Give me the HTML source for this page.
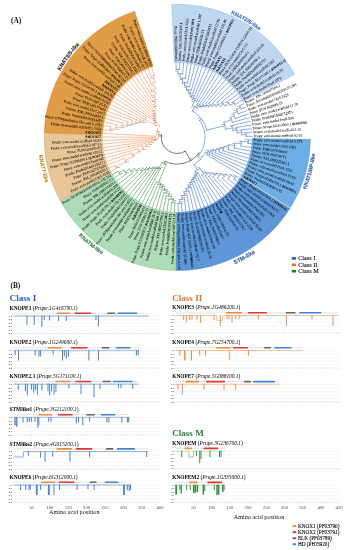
<!DOCTYPE html>
<html lang="en"><head><meta charset="utf-8"><title>KNOX phylogeny and disorder profiles</title>
<style>
html,body{margin:0;padding:0;background:#fff;}
body{width:350px;height:550px;overflow:hidden;}
svg{display:block;}
</style></head><body>
<svg width="350" height="550" viewBox="0 0 350 550">
<rect width="350" height="550" fill="#fff"/>
<g id="sectors">
<path d="M294.58 74.25A133.2 133.2 0 0 0 171.72 4.32L174.16 62.47A75 75 0 0 1 243.34 101.84Z" fill="#BFD8F1" stroke="#86A9D6" stroke-width="0.35"/>
<path d="M290.26 207.99A133.2 133.2 0 0 0 310.49 139.26L252.29 138.45A75 75 0 0 1 240.9 177.14Z" fill="#6DAFE4" stroke="#4C8DD0" stroke-width="0.35"/>
<path d="M175.67 270.59A133.2 133.2 0 0 0 290.26 207.99L240.9 177.14A75 75 0 0 1 176.38 212.39Z" fill="#5E97D8" stroke="#3B77BD" stroke-width="0.35"/>
<path d="M60.13 200.75A133.2 133.2 0 0 0 175.67 270.59L176.38 212.39A75 75 0 0 1 111.33 173.07Z" fill="#ACDDB6" stroke="#86BF93" stroke-width="0.35"/>
<path d="M44.18 132.75A133.2 133.2 0 0 0 60.13 200.75L111.33 173.07A75 75 0 0 1 102.35 134.78Z" fill="#E9C696" stroke="#CFA266" stroke-width="0.35"/>
<path d="M134.59 11.23A133.2 133.2 0 0 0 44.18 132.75L102.35 134.78A75 75 0 0 1 153.25 66.36Z" fill="#E09D45" stroke="#B97A2C" stroke-width="0.35"/>
</g>
<line x1="240.9" y1="177.14" x2="290.26" y2="207.99" stroke="#EFE3C8" stroke-width="0.9"/>
<g id="labels" font-family="'Liberation Serif',serif" font-size="3.7" fill="#000" stroke="#000" stroke-width="0.035">
<text transform="translate(151.05 65.86) rotate(69.85)" text-anchor="end" dy="1">Pruka: evm.model.scaffold 54.63</text>
<text transform="translate(147.47 67.28) rotate(66.95)" text-anchor="end" dy="1">Prumi: evm.model.Pruft.1870</text>
<text transform="translate(143.96 68.88) rotate(64.05)" text-anchor="end" dy="1">Pruda: evm.model.scaffold 9.187</text>
<text transform="translate(140.53 70.66) rotate(61.15)" text-anchor="end" dy="1">Prudu: Prudul26A013493T1</text>
<text transform="translate(137.2 72.6) rotate(58.25)" text-anchor="end" dy="1">Prufe: evm.model.Chr1.3812</text>
<text transform="translate(133.98 74.71) rotate(55.35)" text-anchor="end" dy="1">Prumu: XM_008221545.1</text>
<text transform="translate(130.86 76.99) rotate(52.45)" text-anchor="end" dy="1">Pruar: PARG06922m01</text>
<text transform="translate(127.86 79.41) rotate(49.55)" text-anchor="end" dy="1">Prusa: FUN 004967-T1</text>
<text transform="translate(124.99 81.99) rotate(46.65)" text-anchor="end" dy="1">Pruce: Pd.WSM2000007S0A.02.118</text>
<text transform="translate(122.26 84.71) rotate(43.75)" text-anchor="end" dy="1">Prupe: Prupe.1G486200.1 <tspan font-weight="bold" font-size="3.2">(KNOPE3)</tspan></text>
<text transform="translate(119.66 87.56) rotate(40.85)" text-anchor="end" dy="1">Pruav: evm.model.scaffold 3.98</text>
<text transform="translate(117.21 90.54) rotate(37.95)" text-anchor="end" dy="1"><tspan font-weight="bold">AtKNAT3</tspan></text>
<text transform="translate(114.92 93.64) rotate(35.05)" text-anchor="end" dy="1"><tspan font-weight="bold">AtKNAT4</tspan></text>
<text transform="translate(112.78 96.85) rotate(32.15)" text-anchor="end" dy="1">Pruka: evm.model.scaffold 189.30</text>
<text transform="translate(110.82 100.17) rotate(29.25)" text-anchor="end" dy="1">Prupe: Prupe.7G254700.1 <tspan font-weight="bold" font-size="3.2">(KNOPE4)</tspan></text>
<text transform="translate(109.02 103.58) rotate(26.35)" text-anchor="end" dy="1">Prumi: evm.model.scaffold 4.150</text>
<text transform="translate(107.39 107.08) rotate(23.45)" text-anchor="end" dy="1">Prusa: FUN 039715-T1</text>
<text transform="translate(105.95 110.65) rotate(20.55)" text-anchor="end" dy="1">Pruar: PARG28177m01</text>
<text transform="translate(104.69 114.3) rotate(17.65)" text-anchor="end" dy="1">Prufe: evm.model.Chr7.2007</text>
<text transform="translate(103.61 118) rotate(14.75)" text-anchor="end" dy="1">Prumu: XM_008244829.1</text>
<text transform="translate(102.72 121.75) rotate(11.85)" text-anchor="end" dy="1">Prudu: Prudul26A023334T1</text>
<text transform="translate(102.03 125.55) rotate(8.95)" text-anchor="end" dy="1">Pruav: EVMprediction Hic asm 6.2553</text>
<text transform="translate(101.52 129.37) rotate(6.05)" text-anchor="end" dy="1">Pruda: evm.model.scaffold 2.1666</text>
<text transform="translate(101.22 133.21) rotate(3.15)" text-anchor="end" dy="1"><tspan font-weight="bold">AtKNAT5</tspan></text>
<text transform="translate(101.1 136.96) rotate(0.33)" text-anchor="end" dy="1"><tspan font-weight="bold">AtKNAT7</tspan></text>
<text transform="translate(101.17 140.6) rotate(-2.4)" text-anchor="end" dy="1">Pruda: evm.model.scaffold 54.87</text>
<text transform="translate(101.41 144.23) rotate(-5.14)" text-anchor="end" dy="1">Pruka: evm.model.scaffold 167.15</text>
<text transform="translate(101.82 147.84) rotate(-7.88)" text-anchor="end" dy="1">Prusa: FUN 024979-T1</text>
<text transform="translate(102.4 151.43) rotate(-10.61)" text-anchor="end" dy="1">Prumi: evm.model.scaffold 159.12</text>
<text transform="translate(103.16 154.99) rotate(-13.35)" text-anchor="end" dy="1">Prupe: Prupe.5G088100.1 <tspan font-weight="bold" font-size="3.2">(KNOPE7)</tspan></text>
<text transform="translate(104.08 158.51) rotate(-16.09)" text-anchor="end" dy="1">Pruav: evm.model.Pruft.845</text>
<text transform="translate(105.18 161.99) rotate(-18.82)" text-anchor="end" dy="1">Prudu: Prudul26A011322T1</text>
<text transform="translate(106.43 165.4) rotate(-21.56)" text-anchor="end" dy="1">Pruar: PARG23717m01</text>
<text transform="translate(107.85 168.75) rotate(-24.3)" text-anchor="end" dy="1">Prumu: XM_008240538.1</text>
<text transform="translate(109.42 172.03) rotate(-27.03)" text-anchor="end" dy="1">Prufe: evm.model.Chr5.1548</text>
<text transform="translate(111.21 175.33) rotate(-29.85)" text-anchor="end" dy="1">Pruce: Pd.WSM2000001S0A.132.102</text>
<text transform="translate(113.21 178.62) rotate(-32.75)" text-anchor="end" dy="1">Prusa: FUN 020621-T1</text>
<text transform="translate(115.38 181.81) rotate(-35.65)" text-anchor="end" dy="1">Prumu: XM_008231429.1</text>
<text transform="translate(117.71 184.89) rotate(-38.55)" text-anchor="end" dy="1">Pruka: evm.model.scaffold 6.209</text>
<text transform="translate(120.19 187.84) rotate(-41.45)" text-anchor="end" dy="1">Prumi: evm.model.scaffold 14.22</text>
<text transform="translate(122.81 190.67) rotate(-44.35)" text-anchor="end" dy="1">Prupe: Prupe.3G236700.1 <tspan font-weight="bold" font-size="3.2">(KNOPEM)</tspan></text>
<text transform="translate(125.58 193.36) rotate(-47.25)" text-anchor="end" dy="1">Prufe: evm.model.Chr3.2441</text>
<text transform="translate(128.47 195.9) rotate(-50.15)" text-anchor="end" dy="1">Prudu: Prudul26A016407T1</text>
<text transform="translate(131.49 198.3) rotate(-53.05)" text-anchor="end" dy="1">Pruav: EVMprediction Hic asm 3.2611</text>
<text transform="translate(134.63 200.54) rotate(-55.95)" text-anchor="end" dy="1">Pruda: evm.model.scaffold 105.7</text>
<text transform="translate(137.88 202.61) rotate(-58.85)" text-anchor="end" dy="1">Pruar: PARG16409m01</text>
<text transform="translate(141.23 204.52) rotate(-61.75)" text-anchor="end" dy="1"><tspan font-weight="bold">AtKNATM</tspan></text>
<text transform="translate(144.68 206.26) rotate(-64.65)" text-anchor="end" dy="1">Pruar: PARG01849m01</text>
<text transform="translate(148.2 207.83) rotate(-67.55)" text-anchor="end" dy="1">Prusa: FUN 002811-T1</text>
<text transform="translate(151.8 209.21) rotate(-70.45)" text-anchor="end" dy="1">Prupe: Prupe.1G335000.1 <tspan font-weight="bold" font-size="3.2">(KNOPEM2)</tspan></text>
<text transform="translate(155.47 210.41) rotate(-73.35)" text-anchor="end" dy="1">Prumi: evm.model.scaffold 29.11</text>
<text transform="translate(159.19 211.42) rotate(-76.25)" text-anchor="end" dy="1">Pruka: evm.model.scaffold 100.23</text>
<text transform="translate(162.96 212.24) rotate(-79.15)" text-anchor="end" dy="1">Prumu: XM_008223738.1</text>
<text transform="translate(166.76 212.87) rotate(-82.05)" text-anchor="end" dy="1">Prufe: evm.model.Chr1.2403</text>
<text transform="translate(170.59 213.3) rotate(-84.95)" text-anchor="end" dy="1">Prudu: Prudul26A008131T1</text>
<text transform="translate(174.44 213.55) rotate(-87.85)" text-anchor="end" dy="1">Pruda: evm.model.scaffold 23.124</text>
<text transform="translate(178.32 213.59) rotate(-270.77)" text-anchor="start" dy="1">Pruav: EVMprediction Hic asm 4.145</text>
<text transform="translate(182.22 213.44) rotate(-273.7)" text-anchor="start" dy="1">Pruda: evm.model.scaffold 51.380</text>
<text transform="translate(186.11 213.09) rotate(-276.64)" text-anchor="start" dy="1">Prupe: Prupe.4G015200.1 <tspan font-weight="bold" font-size="3.2">(STMlike2)</tspan></text>
<text transform="translate(189.97 212.54) rotate(-279.57)" text-anchor="start" dy="1">Pruka: evm.model.scaffold 162.7</text>
<text transform="translate(193.8 211.79) rotate(-282.51)" text-anchor="start" dy="1">Prudu: Prudul26A021913T1</text>
<text transform="translate(197.59 210.85) rotate(-285.44)" text-anchor="start" dy="1">Prumi: evm.model.scaffold 28.24</text>
<text transform="translate(201.32 209.71) rotate(-288.38)" text-anchor="start" dy="1">Prufe: evm.model.Chr4.166</text>
<text transform="translate(205 208.39) rotate(-291.31)" text-anchor="start" dy="1">Prumu: XM_008227684.1</text>
<text transform="translate(208.59 206.88) rotate(-294.25)" text-anchor="start" dy="1">Pruar: PARG19847m01</text>
<text transform="translate(212.11 205.18) rotate(-297.18)" text-anchor="start" dy="1">Prusa: FUN 031854-T1</text>
<text transform="translate(215.54 203.31) rotate(-300.12)" text-anchor="start" dy="1"><tspan font-weight="bold">AtSTM</tspan></text>
<text transform="translate(218.86 201.27) rotate(-303.05)" text-anchor="start" dy="1">Prusa: FUN 011954-T1</text>
<text transform="translate(222.08 199.06) rotate(-305.99)" text-anchor="start" dy="1">Prumu: XM_008231174.1</text>
<text transform="translate(225.17 196.68) rotate(-308.92)" text-anchor="start" dy="1">Prufe: evm.model.Chr3.2228</text>
<text transform="translate(228.15 194.15) rotate(-311.86)" text-anchor="start" dy="1">Prumi: evm.model.scaffold 55.80</text>
<text transform="translate(230.99 191.48) rotate(-314.79)" text-anchor="start" dy="1">Prudu: Prudul26A015140T1</text>
<text transform="translate(233.68 188.66) rotate(-317.73)" text-anchor="start" dy="1">Pruar: evm.model.Pruft.865</text>
<text transform="translate(236.24 185.7) rotate(-320.66)" text-anchor="start" dy="1">Pruka: evm.model.scaffold 156.8</text>
<text transform="translate(238.63 182.62) rotate(-323.6)" text-anchor="start" dy="1">Pruda: evm.model.scaffold 94.53</text>
<text transform="translate(240.87 179.42) rotate(-326.53)" text-anchor="start" dy="1">Prupe: Prupe.3G212100.1 <tspan font-weight="bold" font-size="3.2">(STMlike1)</tspan></text>
<text transform="translate(242.91 176.16) rotate(-329.43)" text-anchor="start" dy="1"><tspan font-weight="bold">AtKNAT1</tspan></text>
<text transform="translate(244.76 172.84) rotate(-332.28)" text-anchor="start" dy="1">Prudu: Prudul26A009871T1</text>
<text transform="translate(246.44 169.44) rotate(-335.14)" text-anchor="start" dy="1">Prupe: Prupe.1G416700.1 <tspan font-weight="bold" font-size="3.2">(KNOPE1)</tspan></text>
<text transform="translate(247.95 165.96) rotate(-337.99)" text-anchor="start" dy="1">Prumi: evm.model.scaffold 68.41</text>
<text transform="translate(249.28 162.4) rotate(-340.85)" text-anchor="start" dy="1">Pruka: evm.model.scaffold 73.63</text>
<text transform="translate(250.44 158.79) rotate(-343.7)" text-anchor="start" dy="1">Pruav: evm.model.Pruft.1526</text>
<text transform="translate(251.41 155.12) rotate(-346.55)" text-anchor="start" dy="1">Prumu: XM_008222263.1</text>
<text transform="translate(252.2 151.41) rotate(-349.41)" text-anchor="start" dy="1">Prusa: FUN 005776-T1</text>
<text transform="translate(252.81 147.66) rotate(-352.26)" text-anchor="start" dy="1">Pruar: PARG07629m01</text>
<text transform="translate(253.22 143.88) rotate(-355.12)" text-anchor="start" dy="1">Prufe: evm.model.Chr1.1681</text>
<text transform="translate(253.45 140.1) rotate(-357.97)" text-anchor="start" dy="1">Pruda: evm.model.scaffold 8.575</text>
<text transform="translate(253.49 136.28) rotate(-0.84)" text-anchor="start" dy="1">Pruka: evm.model.scaffold 82.62</text>
<text transform="translate(253.34 132.44) rotate(-3.73)" text-anchor="start" dy="1">Prumi: evm.model.scaffold 3.13</text>
<text transform="translate(252.99 128.61) rotate(-6.62)" text-anchor="start" dy="1">Prupe: Prupe.6G312900.1 <tspan font-weight="bold" font-size="3.2">(KNOPE6)</tspan></text>
<text transform="translate(252.45 124.8) rotate(-9.51)" text-anchor="start" dy="1">Pruav: evm.model.Pruft.504</text>
<text transform="translate(251.72 121.03) rotate(-12.4)" text-anchor="start" dy="1">Prudu: Prudul26A020729T1</text>
<text transform="translate(250.8 117.3) rotate(-15.3)" text-anchor="start" dy="1">Pruda: evm.model.scaffold 11.70</text>
<text transform="translate(249.69 113.62) rotate(-18.19)" text-anchor="start" dy="1">Prusa: FUN 022600-T1</text>
<text transform="translate(248.4 110) rotate(-21.07)" text-anchor="start" dy="1">Prufe: evm.model.Chr6.3225</text>
<text transform="translate(246.93 106.45) rotate(-23.97)" text-anchor="start" dy="1">Pruce: Pd.WSM2000002S0A.01.591</text>
<text transform="translate(245.28 102.98) rotate(-26.86)" text-anchor="start" dy="1">Prumu: XM_008247564.2</text>
<text transform="translate(243.45 99.58) rotate(-29.76)" text-anchor="start" dy="1">Pruav: evm.model.Pruft.1579</text>
<text transform="translate(241.44 96.27) rotate(-32.67)" text-anchor="start" dy="1">Prumi: evm.model.scaffold 10.78</text>
<text transform="translate(239.27 93.06) rotate(-35.58)" text-anchor="start" dy="1">Prupe: Prupe.5G171100.1 <tspan font-weight="bold" font-size="3.2">(KNOPE2.1)</tspan></text>
<text transform="translate(236.94 89.97) rotate(-38.5)" text-anchor="start" dy="1">Pruda: evm.model.scaffold 2.82</text>
<text transform="translate(234.45 87) rotate(-41.41)" text-anchor="start" dy="1">Prudu: Prudul26A003927T1</text>
<text transform="translate(231.81 84.16) rotate(-44.32)" text-anchor="start" dy="1">Prumu: XM_008240786.1</text>
<text transform="translate(229.04 81.45) rotate(-47.24)" text-anchor="start" dy="1">Pruka: evm.model.scaffold 209.29</text>
<text transform="translate(226.13 78.9) rotate(-50.15)" text-anchor="start" dy="1">Pruar: PARG20678m01</text>
<text transform="translate(223.09 76.49) rotate(-53.07)" text-anchor="start" dy="1">Prufe: evm.model.Chr5.771</text>
<text transform="translate(219.93 74.24) rotate(-55.98)" text-anchor="start" dy="1">Prusa: FUN 22474-T1/FUN 22500-T1</text>
<text transform="translate(216.67 72.16) rotate(-58.89)" text-anchor="start" dy="1"><tspan font-weight="bold">AtKNAT6</tspan></text>
<text transform="translate(213.3 70.24) rotate(-61.81)" text-anchor="start" dy="1"><tspan font-weight="bold">AtKNAT2</tspan></text>
<text transform="translate(209.84 68.5) rotate(-64.72)" text-anchor="start" dy="1">Prupe: Prupe.1G249600.1 <tspan font-weight="bold" font-size="3.2">(KNOPE2)</tspan></text>
<text transform="translate(206.3 66.93) rotate(-67.63)" text-anchor="start" dy="1">Prumi: evm.model.scaffold 123.46</text>
<text transform="translate(202.68 65.55) rotate(-70.55)" text-anchor="start" dy="1">Pruda: evm.model.scaffold 12.76</text>
<text transform="translate(198.99 64.35) rotate(-73.46)" text-anchor="start" dy="1">Prudu: Prudul26A028829T1</text>
<text transform="translate(195.25 63.34) rotate(-76.38)" text-anchor="start" dy="1">Prusa: FUN 003670-T1</text>
<text transform="translate(191.46 62.53) rotate(-79.29)" text-anchor="start" dy="1">Pruka: evm.model.scaffold 1.397</text>
<text transform="translate(187.64 61.9) rotate(-82.2)" text-anchor="start" dy="1">Pruav: evm.model.Pruft.3001</text>
<text transform="translate(183.79 61.48) rotate(-85.12)" text-anchor="start" dy="1">Prufe: evm.model.Chr1.3326</text>
<text transform="translate(179.92 61.25) rotate(-88.03)" text-anchor="start" dy="1">Prumu: XM_008233126.1</text>
<text transform="translate(176.05 61.21) rotate(89.06)" text-anchor="end" dy="1">Pruar: PARG08089m01</text>
</g>
<path id="sl1" d="M42.94 145.38A134.6 134.6 0 0 1 146.11 6.46" fill="none"/>
<text font-family="'Liberation Sans',sans-serif" font-weight="bold" font-size="5.4" fill="#2A1E12" stroke="#2A1E12" stroke-width="0.12" text-anchor="middle"><textPath href="#sl1" startOffset="50%">KNAT3/5-like</textPath></text>
<path id="sl2" d="M154.85 4.68A134.6 134.6 0 0 1 304.1 92.25" fill="none"/>
<text font-family="'Liberation Sans',sans-serif" font-weight="bold" font-size="5.4" fill="#2F74C9" stroke="#2F74C9" stroke-width="0.12" text-anchor="middle"><textPath href="#sl2" startOffset="50%">KNAT2/6-like</textPath></text>
<path id="sl3" d="M52.87 74.55A139.4 139.4 0 0 0 93.8 249.02" fill="none"/>
<text font-family="'Liberation Sans',sans-serif" font-weight="bold" font-size="5.4" fill="#BF8C22" stroke="#BF8C22" stroke-width="0.12" text-anchor="middle"><textPath href="#sl3" startOffset="50%">KNAT7-like</textPath></text>
<path id="sl4" d="M40.66 163.96A139.2 139.2 0 0 0 179.73 276.58" fill="none"/>
<text font-family="'Liberation Sans',sans-serif" font-weight="bold" font-size="5.4" fill="#2A8A44" stroke="#2A8A44" stroke-width="0.12" text-anchor="middle"><textPath href="#sl4" startOffset="50%">KNATM-like</textPath></text>
<path id="sl5" d="M151.18 274.33A139.4 139.4 0 0 0 307.61 186.9" fill="none"/>
<text font-family="'Liberation Sans',sans-serif" font-weight="bold" font-size="5.7" fill="#2C5FAE" stroke="#2C5FAE" stroke-width="0.12" text-anchor="middle"><textPath href="#sl5" startOffset="50%">STM-like</textPath></text>
<path id="sl6" d="M258.1 250.26A138.8 138.8 0 0 0 302.47 77.43" fill="none"/>
<text font-family="'Liberation Sans',sans-serif" font-weight="bold" font-size="5.35" fill="#2C62B4" stroke="#2C62B4" stroke-width="0.12" text-anchor="middle"><textPath href="#sl6" startOffset="50%">KNAT1/BP-like</textPath></text>
<g id="tree" fill="none" stroke-width="0.65" stroke-linecap="square">
<path d="M161.46 135.18A16 16 0 0 0 185.3 151.26M161.46 135.18L158.48 134.76M185.3 151.26L190.7 160.61M165.21 161.32A26.8 26.8 0 0 0 198.42 153.9M165.21 161.32L164 163.73M198.42 153.9L199.36 154.64" stroke="#333333"/>
<path d="M159.27 131.41A19 19 0 0 0 158.32 138.2M159.27 131.41L156.9 130.62M159.39 125.5A21.5 21.5 0 0 0 155.83 136.22M159.39 125.5L155.23 122.73M156.4 121.1A26.5 26.5 0 0 0 154.18 124.45M156.4 121.1L154.83 119.87M155.74 118.76A28.5 28.5 0 0 0 153.97 121.03M155.74 118.76L154.74 117.9M155.76 116.78A29.82 29.82 0 0 0 153.79 119.06M155.76 116.78L154.65 115.72M155.78 114.61A31.35 31.35 0 0 0 153.59 116.9M155.78 114.61L154.55 113.31M155.8 112.19A33.13 33.13 0 0 0 153.37 114.49M155.8 112.19L154.44 110.6M155.82 109.48A35.23 35.23 0 0 0 153.12 111.78M155.82 109.48L154.31 107.52M155.84 106.4A37.7 37.7 0 0 0 152.84 108.71M155.84 106.4L154.17 103.98M155.86 102.87A40.64 40.64 0 0 0 152.53 105.18M155.86 102.87L153.99 99.87M155.86 98.77A44.18 44.18 0 0 0 152.18 101.06M155.86 98.77L153.79 95.05M155.83 93.98A48.44 48.44 0 0 0 151.81 96.21M155.83 93.98L153.56 89.39M155.71 88.39A53.56 53.56 0 0 0 151.46 90.49M155.71 88.39L153.29 82.9M155.37 82.02A59.56 59.56 0 0 0 151.24 83.85M155.37 82.02L153 76.03M154.56 75.44A66 66 0 0 0 151.46 76.67M154.56 75.44L151.6 67.37M151.46 76.67L148.09 68.76M151.24 83.85L144.66 70.32M151.46 90.49L141.3 72.06M151.81 96.21L138.04 73.96M152.18 101.06L134.89 76.03M152.53 105.18L131.83 78.26M152.84 108.71L128.9 80.63M153.12 111.78L126.09 83.15M153.37 114.49L123.41 85.81M153.59 116.9L120.87 88.61M153.79 119.06L118.47 91.52M153.97 121.03L116.23 94.56M154.18 124.45L145.02 119.32M145.97 117.71A37 37 0 0 0 144.15 120.97M145.97 117.71L114.14 97.7M144.15 120.97L142.29 120.05M143.21 118.31A39.08 39.08 0 0 0 141.46 121.84M143.21 118.31L112.21 100.95M141.46 121.84L139.23 120.87M140.11 118.98A41.51 41.51 0 0 0 138.45 122.8M140.11 118.98L110.45 104.29M138.45 122.8L135.77 121.79M136.6 119.74A44.37 44.37 0 0 0 135.04 123.88M136.6 119.74L108.86 107.71M135.04 123.88L131.82 122.85M132.59 120.64A47.75 47.75 0 0 0 131.16 125.1M132.59 120.64L107.45 111.21M131.16 125.1L127.29 124.06M127.98 121.71A51.76 51.76 0 0 0 126.71 126.45M127.98 121.71L106.21 114.78M126.71 126.45L122.1 125.45M122.68 123.02A56.48 56.48 0 0 0 121.62 127.91M122.68 123.02L105.16 118.41M121.62 127.91L116.31 127M116.75 124.69A61.87 61.87 0 0 0 115.96 129.32M116.75 124.69L104.29 122.08M115.96 129.32L110.38 128.59M110.62 126.9A67.5 67.5 0 0 0 110.18 130.29M110.62 126.9L103.61 125.79M110.18 130.29L103.12 129.54M155.83 136.22L102.81 133.3M158.32 138.2L154.82 138.34M154.8 137.27A22.5 22.5 0 0 0 154.89 139.41M154.8 137.27L102.7 136.97M154.89 139.41L153.15 139.57M153.07 138.42A24.25 24.25 0 0 0 153.28 140.72M153.07 138.42L102.77 140.53M153.28 140.72L151.19 141.01M151.05 139.76A26.36 26.36 0 0 0 151.39 142.24M151.05 139.76L103 144.08M151.39 142.24L148.86 142.72M148.64 141.36A28.93 28.93 0 0 0 149.15 144.06M148.64 141.36L103.4 147.62M149.15 144.06L146.04 144.79M145.72 143.32A32.13 32.13 0 0 0 146.42 146.26M145.72 143.32L103.98 151.14M146.42 146.26L142.53 147.37M142.1 145.75A36.17 36.17 0 0 0 143.03 148.97M142.1 145.75L104.72 154.63M143.03 148.97L138.08 150.64M137.53 148.87A41.39 41.39 0 0 0 138.71 152.38M137.53 148.87L105.62 158.07M138.71 152.38L132.34 154.85M131.65 152.96A48.23 48.23 0 0 0 133.11 156.72M131.65 152.96L106.69 161.47M133.11 156.72L124.95 160.29M124.16 158.4A57.14 57.14 0 0 0 125.8 162.15M124.16 158.4L107.92 164.81M125.8 162.15L116.01 166.85M115.32 165.38A68 68 0 0 0 116.73 168.3M115.32 165.38L109.31 168.09M116.73 168.3L110.85 171.3" stroke="#F29F6C"/>
<path d="M162.04 162.65A29.5 29.5 0 0 0 166.03 164.66M162.04 162.65L158.94 167.78M157.42 166.81A35.5 35.5 0 0 0 160.5 168.67M157.42 166.81L156.57 168.08M155.05 166.99A37.02 37.02 0 0 0 158.15 169.08M155.05 166.99L153.99 168.4M152.45 167.18A38.78 38.78 0 0 0 155.58 169.54M152.45 167.18L151.14 168.75M149.6 167.39A40.83 40.83 0 0 0 152.76 170.03M149.6 167.39L147.98 169.15M146.42 167.63A43.22 43.22 0 0 0 149.61 170.58M146.42 167.63L144.43 169.59M142.86 167.91A46.01 46.01 0 0 0 146.07 171.19M142.86 167.91L140.41 170.09M138.85 168.24A49.29 49.29 0 0 0 142.05 171.86M138.85 168.24L135.84 170.66M134.3 168.65A53.15 53.15 0 0 0 137.46 172.59M134.3 168.65L130.66 171.3M129.21 169.2A57.66 57.66 0 0 0 132.21 173.33M129.21 169.2L124.96 172.01M123.68 170A62.75 62.75 0 0 0 126.31 173.97M123.68 170L119.2 172.73M118.32 171.25A68 68 0 0 0 120.11 174.19M118.32 171.25L112.6 174.53M120.11 174.19L114.56 177.76M126.31 173.97L116.68 180.88M132.21 173.33L118.96 183.89M137.46 172.59L121.38 186.78M142.05 171.86L123.95 189.55M146.07 171.19L126.66 192.18M149.61 170.58L129.5 194.67M152.76 170.03L132.46 197.02M155.58 169.54L135.53 199.21M158.15 169.08L138.71 201.24M160.5 168.67L141.99 203.11M166.03 164.66L158.58 182.68M156.32 181.68A49 49 0 0 0 160.88 183.57M156.32 181.68L145.36 204.82M160.88 183.57L160.35 185.06M157.98 184.15A50.58 50.58 0 0 0 162.77 185.85M157.98 184.15L148.81 206.35M162.77 185.85L162.25 187.59M159.77 186.78A52.4 52.4 0 0 0 164.76 188.28M159.77 186.78L152.34 207.7M164.76 188.28L164.27 190.29M161.69 189.59A54.48 54.48 0 0 0 166.88 190.87M161.69 189.59L155.93 208.87M166.88 190.87L166.43 193.18M163.79 192.6A56.83 56.83 0 0 0 169.08 193.63M163.79 192.6L159.57 209.86M169.08 193.63L168.7 196.23M166.11 195.79A59.46 59.46 0 0 0 171.32 196.55M166.11 195.79L163.26 210.67M171.32 196.55L171.03 199.35M168.69 199.07A62.27 62.27 0 0 0 173.39 199.54M168.69 199.07L166.98 211.28M173.39 199.54L173.22 202.27M171.58 202.15A65 65 0 0 0 174.86 202.35M171.58 202.15L170.73 211.71M174.86 202.35L174.5 211.95" stroke="#4FA05A"/>
<path d="M197.75 156.52A28 28 0 0 0 199.63 120.51M197.75 156.52L200.68 159.25M194.06 164.66A32 32 0 0 0 205.63 152.29M194.06 164.66L197.46 170.2M194.89 171.65A38.5 38.5 0 0 0 199.92 168.56M194.89 171.65L196.26 174.32M194.35 175.24A41.5 41.5 0 0 0 198.12 173.3M194.35 175.24L194.97 176.61M192.94 177.46A43.01 43.01 0 0 0 196.95 175.66M192.94 177.46L193.57 179.08M191.42 179.86A44.74 44.74 0 0 0 195.68 178.2M191.42 179.86L192.06 181.76M189.78 182.45A46.75 46.75 0 0 0 194.29 180.95M189.78 182.45L190.4 184.69M188 185.29A49.07 49.07 0 0 0 192.77 183.97M188 185.29L188.59 187.91M186.07 188.41A51.75 51.75 0 0 0 191.08 187.29M186.07 188.41L186.59 191.45M183.99 191.83A54.84 54.84 0 0 0 189.18 190.94M183.99 191.83L184.41 195.3M181.81 195.57A58.34 58.34 0 0 0 187 194.93M181.81 195.57L182.11 199.39M179.72 199.53A62.18 62.18 0 0 0 184.49 199.16M179.72 199.53L179.87 203.35M178.18 203.39A66 66 0 0 0 181.56 203.26M178.18 203.39L178.3 211.99M181.56 203.26L182.12 211.84M184.49 199.16L185.92 211.5M187 194.93L189.71 210.96M189.18 190.94L193.46 210.23M191.08 187.29L197.16 209.31M192.77 183.97L200.82 208.2M194.29 180.95L204.41 206.9M195.68 178.2L207.94 205.42M196.95 175.66L211.38 203.76M198.12 173.3L214.73 201.93M199.92 168.56L203.74 173.82M201.84 175.12A45 45 0 0 0 205.56 172.42M201.84 175.12L217.99 199.93M205.56 172.42L207.02 174.23M205.11 175.69A47.33 47.33 0 0 0 208.85 172.67M205.11 175.69L221.14 197.76M208.85 172.67L210.65 174.69M208.73 176.32A50.03 50.03 0 0 0 212.49 172.96M208.73 176.32L224.17 195.44M212.49 172.96L214.71 175.2M212.79 177.01A53.18 53.18 0 0 0 216.54 173.3M212.79 177.01L227.08 192.96M216.54 173.3L219.24 175.77M217.35 177.74A56.85 56.85 0 0 0 221.03 173.71M217.35 177.74L229.86 190.34M221.03 173.71L224.28 176.41M222.48 178.47A61.06 61.06 0 0 0 225.98 174.26M222.48 178.47L232.5 187.58M225.98 174.26L229.71 177.09M228.15 179.08A65.75 65.75 0 0 0 231.2 175.05M228.15 179.08L235 184.69M231.2 175.05L235.1 177.77M234.04 179.24A70.5 70.5 0 0 0 236.11 176.28M234.04 179.24L237.34 181.67M236.11 176.28L239.53 178.54M205.63 152.29L207.4 153.22M206.57 154.69A34 34 0 0 0 208.15 151.7M206.57 154.69L241.53 175.34M208.15 151.7L209.9 152.51M209.1 154.11A35.93 35.93 0 0 0 210.61 150.87M209.1 154.11L243.34 172.1M210.61 150.87L212.7 151.72M211.94 153.45A38.18 38.18 0 0 0 213.36 149.94M211.94 153.45L244.99 168.77M213.36 149.94L215.88 150.82M215.17 152.71A40.84 40.84 0 0 0 216.49 148.89M215.17 152.71L246.46 165.36M216.49 148.89L219.53 149.78M218.87 151.84A44 44 0 0 0 220.08 147.7M218.87 151.84L247.77 161.88M220.08 147.7L223.76 148.58M223.17 150.81A47.79 47.79 0 0 0 224.25 146.33M223.17 150.81L248.9 158.34M224.25 146.33L228.72 147.18M228.21 149.57A52.35 52.35 0 0 0 229.12 144.77M228.21 149.57L249.86 154.75M229.12 144.77L234.53 145.54M234.12 148.02A57.81 57.81 0 0 0 234.83 143.04M234.12 148.02L250.63 151.11M234.83 143.04L241.17 143.66M240.9 146.04A64.18 64.18 0 0 0 241.36 141.27M240.9 146.04L251.22 147.44M241.36 141.27L248.17 141.68M248.04 143.44A71 71 0 0 0 248.26 139.91M248.04 143.44L251.63 143.75M248.26 139.91L251.85 140.04M199.63 120.51L201.63 119M206.91 130.1A30.5 30.5 0 0 0 192.39 110.89M206.91 130.1L224.88 125.67M225.6 129.15A49 49 0 0 0 223.9 122.25M225.6 129.15L232.5 127.97M232.88 130.59A56 56 0 0 0 231.99 125.37M232.88 130.59L236.89 130.1M237.15 132.73A60.03 60.03 0 0 0 236.51 127.48M237.15 132.73L241.6 132.39M241.74 134.82A64.5 64.5 0 0 0 241.36 129.96M241.74 134.82L246.24 134.64M246.29 136.38A69 69 0 0 0 246.15 132.91M246.29 136.38L251.89 136.3M246.15 132.91L251.74 132.54M241.36 129.96L251.4 128.79M236.51 127.48L250.87 125.07M231.99 125.37L250.16 121.37M223.9 122.25L231.51 119.78M232.28 122.36A57 57 0 0 0 230.62 117.24M232.28 122.36L249.26 117.72M230.62 117.24L234.39 115.81M235.29 118.35A61.04 61.04 0 0 0 233.39 113.31M235.29 118.35L248.17 114.12M233.39 113.31L237.49 111.55M238.42 113.85A65.5 65.5 0 0 0 236.47 109.29M238.42 113.85L246.91 110.57M236.47 109.29L240.53 107.36M241.27 108.97A70 70 0 0 0 239.75 105.78M241.27 108.97L245.47 107.1M239.75 105.78L243.85 103.7M192.39 110.89L194.86 106.55M197.16 107.98A35.5 35.5 0 0 0 192.46 105.3M197.16 107.98L198.56 105.9M200.13 107.02A38 38 0 0 0 196.93 104.86M200.13 107.02L201.13 105.69M202.71 106.94A39.67 39.67 0 0 0 199.49 104.52M202.71 106.94L203.95 105.45M205.53 106.84A41.6 41.6 0 0 0 202.3 104.15M205.53 106.84L207.06 105.2M208.64 106.74A43.85 43.85 0 0 0 205.4 103.74M208.64 106.74L210.51 104.91M212.1 106.61A46.46 46.46 0 0 0 208.85 103.29M212.1 106.61L214.39 104.59M215.96 106.45A49.52 49.52 0 0 0 212.73 102.8M215.96 106.45L218.74 104.22M220.28 106.24A53.09 53.09 0 0 0 217.11 102.29M220.28 106.24L223.61 103.82M225.06 105.91A57.21 57.21 0 0 0 222.07 101.79M225.06 105.91L228.9 103.38M230.16 105.37A61.81 61.81 0 0 0 227.57 101.43M230.16 105.37L234.17 102.94M235.03 104.39A66.5 66.5 0 0 0 233.28 101.5M235.03 104.39L242.06 100.37M233.28 101.5L240.1 97.13M227.57 101.43L237.97 93.99M222.07 101.79L235.68 90.96M217.11 102.29L233.25 88.06M212.73 102.8L230.67 85.27M208.85 103.29L227.95 82.63M205.4 103.74L225.1 80.13M202.3 104.15L222.13 77.77M199.49 104.52L219.04 75.57M196.93 104.86L215.84 73.53M192.46 105.3L194.81 100.33M196.67 101.26A41 41 0 0 0 192.91 99.49M196.67 101.26L212.54 71.65M192.91 99.49L193.53 97.98M195.51 98.85A42.63 42.63 0 0 0 191.51 97.2M195.51 98.85L209.16 69.94M191.51 97.2L192.13 95.43M194.24 96.23A44.52 44.52 0 0 0 189.99 94.73M194.24 96.23L205.69 68.41M189.99 94.73L190.61 92.64M192.85 93.37A46.7 46.7 0 0 0 188.34 92.03M192.85 93.37L202.14 67.06M188.34 92.03L188.93 89.57M191.31 90.21A49.22 49.22 0 0 0 186.53 89.05M191.31 90.21L198.54 65.89M186.53 89.05L187.07 86.17M189.59 86.72A52.15 52.15 0 0 0 184.54 85.75M189.59 86.72L194.87 64.9M184.54 85.75L185.01 82.4M187.62 82.83A55.54 55.54 0 0 0 182.38 82.09M187.62 82.83L191.17 64.1M182.38 82.09L182.73 78.23M185.36 78.53A59.42 59.42 0 0 0 180.1 78.05M185.36 78.53L187.42 63.49M180.1 78.05L180.3 73.78M182.72 73.94A63.7 63.7 0 0 0 177.87 73.71M182.72 73.94L183.65 63.07M177.87 73.71L177.91 69.4M179.64 69.44A68 68 0 0 0 176.18 69.41M179.64 69.44L179.87 62.84M176.18 69.41L176.07 62.81" stroke="#4F82D2"/>
</g>
<g id="boot" font-family="'Liberation Sans',sans-serif" font-size="2.2" fill="#505050" text-anchor="middle">
<text x="159.95" y="136.64">99</text>
<text x="158.07" y="132.89">86</text>
<text x="155.76" y="125.51">88</text>
<text x="155.12" y="122.78">100</text>
<text x="154.87" y="120.88">97</text>
<text x="154.59" y="118.78">99</text>
<text x="154.29" y="116.44">86</text>
<text x="153.96" y="113.8">92</text>
<text x="153.58" y="110.79">79</text>
<text x="154.19" y="106.53">86</text>
<text x="153.84" y="102.47">100</text>
<text x="153.44" y="97.7">86</text>
<text x="152.98" y="92.09">100</text>
<text x="152.46" y="85.63">99</text>
<text x="151.93" y="78.81">100</text>
<text x="145.42" y="122.62">92</text>
<text x="142.77" y="123.44">98</text>
<text x="140.27" y="123.13">88</text>
<text x="136.86" y="124.08">99</text>
<text x="132.97" y="125.17">99</text>
<text x="128.49" y="126.43">73</text>
<text x="123.36" y="127.89">92</text>
<text x="117.63" y="129.53">88</text>
<text x="111.75" y="131.23">100</text>
<text x="156.51" y="140.15">88</text>
<text x="154.91" y="141.4">92</text>
<text x="153.03" y="142.88">95</text>
<text x="150.79" y="144.65">79</text>
<text x="148.08" y="146.83">100</text>
<text x="144.71" y="149.54">100</text>
<text x="139.97" y="151.77">99</text>
<text x="134.32" y="156.08">79</text>
<text x="127.05" y="161.66">100</text>
<text x="118.28" y="168.42">100</text>
<text x="191.21" y="159.01">99</text>
<text x="166.26" y="163.62">88</text>
<text x="161.57" y="168.03">95</text>
<text x="159.3" y="168.51">73</text>
<text x="156.81" y="169.03">100</text>
<text x="153.02" y="168.81">79</text>
<text x="149.93" y="169.35">64</text>
<text x="146.45" y="169.94">100</text>
<text x="142.5" y="170.61">100</text>
<text x="138" y="171.37">64</text>
<text x="132.89" y="172.21">86</text>
<text x="127.26" y="173.14">100</text>
<text x="121.55" y="174.07">98</text>
<text x="160.42" y="182.29">64</text>
<text x="162.19" y="184.59">100</text>
<text x="164.07" y="187.05">100</text>
<text x="166.09" y="189.67">100</text>
<text x="168.25" y="192.49">98</text>
<text x="170.54" y="195.46">92</text>
<text x="172.88" y="198.5">86</text>
<text x="175.09" y="201.36">73</text>
<text x="199.06" y="152.95">99</text>
<text x="200.73" y="157.37">99</text>
<text x="198.51" y="168.2">95</text>
<text x="196.51" y="172.97">73</text>
<text x="195.36" y="175.26">64</text>
<text x="194.1" y="177.74">99</text>
<text x="192.74" y="180.43">95</text>
<text x="191.25" y="183.38">95</text>
<text x="189.6" y="186.62">73</text>
<text x="187.78" y="190.2">64</text>
<text x="185.79" y="194.1">86</text>
<text x="183.67" y="198.24">92</text>
<text x="181.61" y="202.26">99</text>
<text x="203.77" y="172.4">100</text>
<text x="207" y="172.77">99</text>
<text x="210.58" y="173.18">97</text>
<text x="214.59" y="173.64">100</text>
<text x="219.09" y="174.14">100</text>
<text x="224.09" y="174.69">100</text>
<text x="229.5" y="175.28">92</text>
<text x="234.86" y="175.86">99</text>
<text x="206.85" y="151.29">98</text>
<text x="209.27" y="150.51">79</text>
<text x="211.99" y="149.62">95</text>
<text x="214.71" y="149.85">64</text>
<text x="218.31" y="148.79">79</text>
<text x="222.49" y="147.55">100</text>
<text x="227.4" y="146.09">98</text>
<text x="233.15" y="144.36">95</text>
<text x="239.73" y="142.36">88</text>
<text x="246.66" y="140.25">100</text>
<text x="199.24" y="119.19">95</text>
<text x="222.99" y="125.37">86</text>
<text x="230.65" y="127.34">97</text>
<text x="235.08" y="129.28">88</text>
<text x="239.84" y="131.36">86</text>
<text x="244.54" y="133.43">95</text>
<text x="229.49" y="119.41">86</text>
<text x="232.29" y="115.43">99</text>
<text x="235.29" y="111.15">99</text>
<text x="238.24" y="106.94">97</text>
<text x="192.24" y="107.57">79</text>
<text x="195.78" y="106.64">99</text>
<text x="198.27" y="106.23">99</text>
<text x="202.06" y="106.58">100</text>
<text x="205.09" y="106.18">100</text>
<text x="208.48" y="105.74">98</text>
<text x="212.29" y="105.26">86</text>
<text x="216.58" y="104.71">79</text>
<text x="221.39" y="104.11">73</text>
<text x="226.62" y="103.47">100</text>
<text x="231.84" y="102.83">73</text>
<text x="193.13" y="101.92">100</text>
<text x="191.85" y="99.64">97</text>
<text x="190.46" y="97.15">88</text>
<text x="188.94" y="94.43">99</text>
<text x="187.26" y="91.43">86</text>
<text x="185.38" y="88.1">86</text>
<text x="183.29" y="84.39">100</text>
<text x="180.98" y="80.3">73</text>
<text x="178.49" y="75.92">79</text>
<text x="176.04" y="71.61">99</text>
</g>
<g id="partB">
<line x1="13.1" y1="316" x2="159.5" y2="316" stroke="#E4E4E4" stroke-width="0.3"/>
<line x1="13.1" y1="319.5" x2="159.5" y2="319.5" stroke="#E4E4E4" stroke-width="0.3"/>
<line x1="13.1" y1="323" x2="159.5" y2="323" stroke="#E4E4E4" stroke-width="0.3"/>
<line x1="13.1" y1="326.5" x2="159.5" y2="326.5" stroke="#E4E4E4" stroke-width="0.3"/>
<line x1="13.1" y1="330" x2="159.5" y2="330" stroke="#E4E4E4" stroke-width="0.3"/>
<line x1="13.1" y1="333.5" x2="159.5" y2="333.5" stroke="#BDBDBD" stroke-width="0.3"/>
<line x1="31.48" y1="332.9" x2="31.48" y2="334.1" stroke="#999" stroke-width="0.3"/>
<line x1="49.85" y1="332.9" x2="49.85" y2="334.1" stroke="#999" stroke-width="0.3"/>
<line x1="68.22" y1="332.9" x2="68.22" y2="334.1" stroke="#999" stroke-width="0.3"/>
<line x1="86.6" y1="332.9" x2="86.6" y2="334.1" stroke="#999" stroke-width="0.3"/>
<line x1="104.97" y1="332.9" x2="104.97" y2="334.1" stroke="#999" stroke-width="0.3"/>
<line x1="123.35" y1="332.9" x2="123.35" y2="334.1" stroke="#999" stroke-width="0.3"/>
<line x1="141.72" y1="332.9" x2="141.72" y2="334.1" stroke="#999" stroke-width="0.3"/>
<line x1="160.1" y1="332.9" x2="160.1" y2="334.1" stroke="#999" stroke-width="0.3"/>
<text x="12.2" y="316.85" font-family="'Liberation Serif',serif" font-size="2.8" fill="#222" text-anchor="end">1.0</text>
<text x="12.2" y="320.35" font-family="'Liberation Serif',serif" font-size="2.8" fill="#222" text-anchor="end">0.9</text>
<text x="12.2" y="323.85" font-family="'Liberation Serif',serif" font-size="2.8" fill="#222" text-anchor="end">0.8</text>
<text x="12.2" y="327.35" font-family="'Liberation Serif',serif" font-size="2.8" fill="#222" text-anchor="end">0.7</text>
<text x="12.2" y="330.85" font-family="'Liberation Serif',serif" font-size="2.8" fill="#222" text-anchor="end">0.6</text>
<text x="12.2" y="334.35" font-family="'Liberation Serif',serif" font-size="2.8" fill="#222" text-anchor="end">0.5</text>
<line x1="13.5" y1="313.3" x2="148.3" y2="313.3" stroke="#C9C9C9" stroke-width="0.5"/>
<rect x="57" y="312.5" width="13.3" height="1.6" rx="0.4" fill="#F28A2E"/>
<rect x="74.4" y="312.5" width="17" height="1.6" rx="0.4" fill="#E8352E"/>
<rect x="107.2" y="312.5" width="8" height="1.6" rx="0.4" fill="#666666"/>
<rect x="117.6" y="312.5" width="19.6" height="1.6" rx="0.4" fill="#3E86D6"/>
<line x1="13.5" y1="316" x2="148.8" y2="316" stroke="#B0C9E8" stroke-width="1.4"/>
<rect x="26.5" y="315.7" width="1" height="9.3" fill="#4A84CB"/>
<rect x="33.7" y="315.7" width="1" height="9.3" fill="#4A84CB"/>
<rect x="41.4" y="315.7" width="1" height="11.3" fill="#4A84CB"/>
<rect x="43.7" y="315.7" width="1" height="4.3" fill="#4A84CB"/>
<rect x="49.1" y="315.7" width="1" height="4.8" fill="#4A84CB"/>
<rect x="58.1" y="315.7" width="1" height="5.3" fill="#4A84CB"/>
<rect x="65.8" y="315.7" width="1" height="5.3" fill="#4A84CB"/>
<rect x="95.5" y="315.7" width="1" height="4.3" fill="#4A84CB"/>
<rect x="97.9" y="315.7" width="1" height="10.8" fill="#4A84CB"/>
<text x="9.5" y="309.9" font-family="'Liberation Serif',serif" font-size="5.4" fill="#000"><tspan font-weight="bold">KNOPE1</tspan> (<tspan font-style="italic">Prupe.1G416700.1</tspan>)</text>
<line x1="13.1" y1="350.5" x2="159.5" y2="350.5" stroke="#E4E4E4" stroke-width="0.3"/>
<line x1="13.1" y1="354" x2="159.5" y2="354" stroke="#E4E4E4" stroke-width="0.3"/>
<line x1="13.1" y1="357.5" x2="159.5" y2="357.5" stroke="#E4E4E4" stroke-width="0.3"/>
<line x1="13.1" y1="361" x2="159.5" y2="361" stroke="#E4E4E4" stroke-width="0.3"/>
<line x1="13.1" y1="364.5" x2="159.5" y2="364.5" stroke="#E4E4E4" stroke-width="0.3"/>
<line x1="13.1" y1="368" x2="159.5" y2="368" stroke="#BDBDBD" stroke-width="0.3"/>
<line x1="31.48" y1="367.4" x2="31.48" y2="368.6" stroke="#999" stroke-width="0.3"/>
<line x1="49.85" y1="367.4" x2="49.85" y2="368.6" stroke="#999" stroke-width="0.3"/>
<line x1="68.22" y1="367.4" x2="68.22" y2="368.6" stroke="#999" stroke-width="0.3"/>
<line x1="86.6" y1="367.4" x2="86.6" y2="368.6" stroke="#999" stroke-width="0.3"/>
<line x1="104.97" y1="367.4" x2="104.97" y2="368.6" stroke="#999" stroke-width="0.3"/>
<line x1="123.35" y1="367.4" x2="123.35" y2="368.6" stroke="#999" stroke-width="0.3"/>
<line x1="141.72" y1="367.4" x2="141.72" y2="368.6" stroke="#999" stroke-width="0.3"/>
<line x1="160.1" y1="367.4" x2="160.1" y2="368.6" stroke="#999" stroke-width="0.3"/>
<text x="12.2" y="351.35" font-family="'Liberation Serif',serif" font-size="2.8" fill="#222" text-anchor="end">1.0</text>
<text x="12.2" y="354.85" font-family="'Liberation Serif',serif" font-size="2.8" fill="#222" text-anchor="end">0.9</text>
<text x="12.2" y="358.35" font-family="'Liberation Serif',serif" font-size="2.8" fill="#222" text-anchor="end">0.8</text>
<text x="12.2" y="361.85" font-family="'Liberation Serif',serif" font-size="2.8" fill="#222" text-anchor="end">0.7</text>
<text x="12.2" y="365.35" font-family="'Liberation Serif',serif" font-size="2.8" fill="#222" text-anchor="end">0.6</text>
<text x="12.2" y="368.85" font-family="'Liberation Serif',serif" font-size="2.8" fill="#222" text-anchor="end">0.5</text>
<line x1="13.5" y1="347.8" x2="138.5" y2="347.8" stroke="#C9C9C9" stroke-width="0.5"/>
<rect x="47.6" y="347" width="14" height="1.6" rx="0.4" fill="#F28A2E"/>
<rect x="70.9" y="347" width="16.6" height="1.6" rx="0.4" fill="#E8352E"/>
<rect x="101.7" y="347" width="7.7" height="1.6" rx="0.4" fill="#666666"/>
<rect x="115.8" y="347" width="14.7" height="1.6" rx="0.4" fill="#3E86D6"/>
<line x1="13.5" y1="350.5" x2="139" y2="350.5" stroke="#B0C9E8" stroke-width="1.4"/>
<rect x="14.7" y="350.2" width="1" height="4.8" fill="#4A84CB"/>
<rect x="18" y="350.2" width="1" height="10.3" fill="#4A84CB"/>
<rect x="34.7" y="350.2" width="1" height="5.3" fill="#4A84CB"/>
<rect x="38.5" y="350.2" width="1" height="6.3" fill="#4A84CB"/>
<rect x="40.1" y="350.2" width="1" height="6.3" fill="#4A84CB"/>
<rect x="52.7" y="350.2" width="1" height="4.3" fill="#4A84CB"/>
<rect x="62" y="350.2" width="1" height="10.3" fill="#4A84CB"/>
<rect x="63.8" y="350.2" width="1" height="6.3" fill="#4A84CB"/>
<rect x="65.8" y="350.2" width="1" height="8.3" fill="#4A84CB"/>
<rect x="67.9" y="350.2" width="1" height="6.3" fill="#4A84CB"/>
<rect x="88.4" y="350.2" width="1" height="10.3" fill="#4A84CB"/>
<rect x="97.9" y="350.2" width="1" height="10.3" fill="#4A84CB"/>
<rect x="135.9" y="350.2" width="1" height="5.3" fill="#4A84CB"/>
<rect x="137.7" y="350.2" width="1" height="5.3" fill="#4A84CB"/>
<text x="9.5" y="344.4" font-family="'Liberation Serif',serif" font-size="5.4" fill="#000"><tspan font-weight="bold">KNOPE2</tspan> (<tspan font-style="italic">Prupe.1G249600.1</tspan>)</text>
<line x1="13.1" y1="384.2" x2="159.5" y2="384.2" stroke="#E4E4E4" stroke-width="0.3"/>
<line x1="13.1" y1="387.7" x2="159.5" y2="387.7" stroke="#E4E4E4" stroke-width="0.3"/>
<line x1="13.1" y1="391.2" x2="159.5" y2="391.2" stroke="#E4E4E4" stroke-width="0.3"/>
<line x1="13.1" y1="394.7" x2="159.5" y2="394.7" stroke="#E4E4E4" stroke-width="0.3"/>
<line x1="13.1" y1="398.2" x2="159.5" y2="398.2" stroke="#E4E4E4" stroke-width="0.3"/>
<line x1="13.1" y1="401.7" x2="159.5" y2="401.7" stroke="#BDBDBD" stroke-width="0.3"/>
<line x1="31.48" y1="401.1" x2="31.48" y2="402.3" stroke="#999" stroke-width="0.3"/>
<line x1="49.85" y1="401.1" x2="49.85" y2="402.3" stroke="#999" stroke-width="0.3"/>
<line x1="68.22" y1="401.1" x2="68.22" y2="402.3" stroke="#999" stroke-width="0.3"/>
<line x1="86.6" y1="401.1" x2="86.6" y2="402.3" stroke="#999" stroke-width="0.3"/>
<line x1="104.97" y1="401.1" x2="104.97" y2="402.3" stroke="#999" stroke-width="0.3"/>
<line x1="123.35" y1="401.1" x2="123.35" y2="402.3" stroke="#999" stroke-width="0.3"/>
<line x1="141.72" y1="401.1" x2="141.72" y2="402.3" stroke="#999" stroke-width="0.3"/>
<line x1="160.1" y1="401.1" x2="160.1" y2="402.3" stroke="#999" stroke-width="0.3"/>
<text x="12.2" y="385.05" font-family="'Liberation Serif',serif" font-size="2.8" fill="#222" text-anchor="end">1.0</text>
<text x="12.2" y="388.55" font-family="'Liberation Serif',serif" font-size="2.8" fill="#222" text-anchor="end">0.9</text>
<text x="12.2" y="392.05" font-family="'Liberation Serif',serif" font-size="2.8" fill="#222" text-anchor="end">0.8</text>
<text x="12.2" y="395.55" font-family="'Liberation Serif',serif" font-size="2.8" fill="#222" text-anchor="end">0.7</text>
<text x="12.2" y="399.05" font-family="'Liberation Serif',serif" font-size="2.8" fill="#222" text-anchor="end">0.6</text>
<text x="12.2" y="402.55" font-family="'Liberation Serif',serif" font-size="2.8" fill="#222" text-anchor="end">0.5</text>
<line x1="13.5" y1="381.5" x2="138.5" y2="381.5" stroke="#C9C9C9" stroke-width="0.5"/>
<rect x="55.3" y="380.7" width="15.4" height="1.6" rx="0.4" fill="#F28A2E"/>
<rect x="75.3" y="380.7" width="16.1" height="1.6" rx="0.4" fill="#E8352E"/>
<rect x="102.5" y="380.7" width="8.2" height="1.6" rx="0.4" fill="#666666"/>
<rect x="112.8" y="380.7" width="19.8" height="1.6" rx="0.4" fill="#3E86D6"/>
<line x1="13.5" y1="384.2" x2="139" y2="384.2" stroke="#B0C9E8" stroke-width="1.4"/>
<rect x="17.8" y="383.9" width="1" height="5.8" fill="#4A84CB"/>
<rect x="24.9" y="383.9" width="1" height="7.3" fill="#4A84CB"/>
<rect x="26.8" y="383.9" width="1" height="11.3" fill="#4A84CB"/>
<rect x="31.1" y="383.9" width="1" height="5.8" fill="#4A84CB"/>
<rect x="33.2" y="383.9" width="1" height="8.8" fill="#4A84CB"/>
<rect x="34.9" y="383.9" width="1" height="6.3" fill="#4A84CB"/>
<rect x="36.8" y="383.9" width="1" height="10.8" fill="#4A84CB"/>
<rect x="41.4" y="383.9" width="1" height="6.3" fill="#4A84CB"/>
<rect x="47.5" y="383.9" width="1" height="7.3" fill="#4A84CB"/>
<rect x="49.2" y="383.9" width="1" height="11.3" fill="#4A84CB"/>
<rect x="51.1" y="383.9" width="1" height="7.3" fill="#4A84CB"/>
<rect x="53.5" y="383.9" width="1" height="10.8" fill="#4A84CB"/>
<rect x="55.4" y="383.9" width="1" height="8.3" fill="#4A84CB"/>
<rect x="68.4" y="383.9" width="1" height="4.3" fill="#4A84CB"/>
<rect x="80.5" y="383.9" width="1" height="10.3" fill="#4A84CB"/>
<rect x="93.5" y="383.9" width="1" height="13.3" fill="#4A84CB"/>
<rect x="99.5" y="383.9" width="1" height="4.8" fill="#4A84CB"/>
<rect x="117.9" y="383.9" width="1" height="4.3" fill="#4A84CB"/>
<rect x="120.5" y="383.9" width="1" height="4.3" fill="#4A84CB"/>
<rect x="132.1" y="383.9" width="1" height="4.8" fill="#4A84CB"/>
<text x="9.5" y="378.1" font-family="'Liberation Serif',serif" font-size="5.4" fill="#000"><tspan font-weight="bold">KNOPE2.1</tspan> (<tspan font-style="italic">Prupe.5G171100.1</tspan>)</text>
<line x1="13.1" y1="417.4" x2="159.5" y2="417.4" stroke="#E4E4E4" stroke-width="0.3"/>
<line x1="13.1" y1="420.9" x2="159.5" y2="420.9" stroke="#E4E4E4" stroke-width="0.3"/>
<line x1="13.1" y1="424.4" x2="159.5" y2="424.4" stroke="#E4E4E4" stroke-width="0.3"/>
<line x1="13.1" y1="427.9" x2="159.5" y2="427.9" stroke="#E4E4E4" stroke-width="0.3"/>
<line x1="13.1" y1="431.4" x2="159.5" y2="431.4" stroke="#E4E4E4" stroke-width="0.3"/>
<line x1="13.1" y1="434.9" x2="159.5" y2="434.9" stroke="#BDBDBD" stroke-width="0.3"/>
<line x1="31.48" y1="434.3" x2="31.48" y2="435.5" stroke="#999" stroke-width="0.3"/>
<line x1="49.85" y1="434.3" x2="49.85" y2="435.5" stroke="#999" stroke-width="0.3"/>
<line x1="68.22" y1="434.3" x2="68.22" y2="435.5" stroke="#999" stroke-width="0.3"/>
<line x1="86.6" y1="434.3" x2="86.6" y2="435.5" stroke="#999" stroke-width="0.3"/>
<line x1="104.97" y1="434.3" x2="104.97" y2="435.5" stroke="#999" stroke-width="0.3"/>
<line x1="123.35" y1="434.3" x2="123.35" y2="435.5" stroke="#999" stroke-width="0.3"/>
<line x1="141.72" y1="434.3" x2="141.72" y2="435.5" stroke="#999" stroke-width="0.3"/>
<line x1="160.1" y1="434.3" x2="160.1" y2="435.5" stroke="#999" stroke-width="0.3"/>
<text x="12.2" y="418.25" font-family="'Liberation Serif',serif" font-size="2.8" fill="#222" text-anchor="end">1.0</text>
<text x="12.2" y="421.75" font-family="'Liberation Serif',serif" font-size="2.8" fill="#222" text-anchor="end">0.9</text>
<text x="12.2" y="425.25" font-family="'Liberation Serif',serif" font-size="2.8" fill="#222" text-anchor="end">0.8</text>
<text x="12.2" y="428.75" font-family="'Liberation Serif',serif" font-size="2.8" fill="#222" text-anchor="end">0.7</text>
<text x="12.2" y="432.25" font-family="'Liberation Serif',serif" font-size="2.8" fill="#222" text-anchor="end">0.6</text>
<text x="12.2" y="435.75" font-family="'Liberation Serif',serif" font-size="2.8" fill="#222" text-anchor="end">0.5</text>
<line x1="13.5" y1="414.7" x2="128.7" y2="414.7" stroke="#C9C9C9" stroke-width="0.5"/>
<rect x="38.6" y="413.9" width="13.6" height="1.6" rx="0.4" fill="#F28A2E"/>
<rect x="57.8" y="413.9" width="14.9" height="1.6" rx="0.4" fill="#E8352E"/>
<rect x="86.3" y="413.9" width="8.5" height="1.6" rx="0.4" fill="#666666"/>
<rect x="101" y="413.9" width="14.3" height="1.6" rx="0.4" fill="#3E86D6"/>
<line x1="13.5" y1="417.4" x2="129.2" y2="417.4" stroke="#B0C9E8" stroke-width="1.4"/>
<rect x="14.35" y="417.1" width="1.3" height="8.3" fill="#4A84CB"/>
<rect x="16.15" y="417.1" width="1.3" height="9.7" fill="#4A84CB"/>
<rect x="22.5" y="417.1" width="1" height="5.4" fill="#4A84CB"/>
<rect x="26.8" y="417.1" width="1" height="5.1" fill="#4A84CB"/>
<rect x="28.9" y="417.1" width="1" height="4.8" fill="#4A84CB"/>
<rect x="31.1" y="417.1" width="1" height="4.6" fill="#4A84CB"/>
<rect x="34.5" y="417.1" width="1" height="4.6" fill="#4A84CB"/>
<rect x="37.3" y="417.1" width="1" height="10.6" fill="#4A84CB"/>
<rect x="38.3" y="417.1" width="1" height="8.3" fill="#4A84CB"/>
<rect x="48.2" y="417.1" width="1" height="4.6" fill="#4A84CB"/>
<rect x="50.5" y="417.1" width="1" height="4.6" fill="#4A84CB"/>
<rect x="75.8" y="417.1" width="1" height="6.3" fill="#4A84CB"/>
<rect x="77.9" y="417.1" width="1" height="5.3" fill="#4A84CB"/>
<rect x="82.3" y="417.1" width="1" height="8.3" fill="#4A84CB"/>
<rect x="89.1" y="417.1" width="1" height="4.3" fill="#4A84CB"/>
<rect x="106.4" y="417.1" width="1" height="5.3" fill="#4A84CB"/>
<rect x="108.4" y="417.1" width="1" height="5.3" fill="#4A84CB"/>
<rect x="121.3" y="417.1" width="1" height="5.3" fill="#4A84CB"/>
<rect x="126.9" y="417.1" width="1" height="5.3" fill="#4A84CB"/>
<rect x="128.2" y="417.1" width="1" height="5.3" fill="#4A84CB"/>
<text x="9.5" y="411.3" font-family="'Liberation Serif',serif" font-size="5.4" fill="#000"><tspan font-weight="bold">STMlike1</tspan> (<tspan font-style="italic">Prupe.3G212100.1</tspan>)</text>
<line x1="13.1" y1="451.6" x2="159.5" y2="451.6" stroke="#E4E4E4" stroke-width="0.3"/>
<line x1="13.1" y1="455.1" x2="159.5" y2="455.1" stroke="#E4E4E4" stroke-width="0.3"/>
<line x1="13.1" y1="458.6" x2="159.5" y2="458.6" stroke="#E4E4E4" stroke-width="0.3"/>
<line x1="13.1" y1="462.1" x2="159.5" y2="462.1" stroke="#E4E4E4" stroke-width="0.3"/>
<line x1="13.1" y1="465.6" x2="159.5" y2="465.6" stroke="#E4E4E4" stroke-width="0.3"/>
<line x1="13.1" y1="469.1" x2="159.5" y2="469.1" stroke="#BDBDBD" stroke-width="0.3"/>
<line x1="31.48" y1="468.5" x2="31.48" y2="469.7" stroke="#999" stroke-width="0.3"/>
<line x1="49.85" y1="468.5" x2="49.85" y2="469.7" stroke="#999" stroke-width="0.3"/>
<line x1="68.22" y1="468.5" x2="68.22" y2="469.7" stroke="#999" stroke-width="0.3"/>
<line x1="86.6" y1="468.5" x2="86.6" y2="469.7" stroke="#999" stroke-width="0.3"/>
<line x1="104.97" y1="468.5" x2="104.97" y2="469.7" stroke="#999" stroke-width="0.3"/>
<line x1="123.35" y1="468.5" x2="123.35" y2="469.7" stroke="#999" stroke-width="0.3"/>
<line x1="141.72" y1="468.5" x2="141.72" y2="469.7" stroke="#999" stroke-width="0.3"/>
<line x1="160.1" y1="468.5" x2="160.1" y2="469.7" stroke="#999" stroke-width="0.3"/>
<text x="12.2" y="452.45" font-family="'Liberation Serif',serif" font-size="2.8" fill="#222" text-anchor="end">1.0</text>
<text x="12.2" y="455.95" font-family="'Liberation Serif',serif" font-size="2.8" fill="#222" text-anchor="end">0.9</text>
<text x="12.2" y="459.45" font-family="'Liberation Serif',serif" font-size="2.8" fill="#222" text-anchor="end">0.8</text>
<text x="12.2" y="462.95" font-family="'Liberation Serif',serif" font-size="2.8" fill="#222" text-anchor="end">0.7</text>
<text x="12.2" y="466.45" font-family="'Liberation Serif',serif" font-size="2.8" fill="#222" text-anchor="end">0.6</text>
<text x="12.2" y="469.95" font-family="'Liberation Serif',serif" font-size="2.8" fill="#222" text-anchor="end">0.5</text>
<line x1="13.5" y1="448.9" x2="147" y2="448.9" stroke="#C9C9C9" stroke-width="0.5"/>
<rect x="56.6" y="448.1" width="15.4" height="1.6" rx="0.4" fill="#F28A2E"/>
<rect x="75.8" y="448.1" width="16.4" height="1.6" rx="0.4" fill="#E8352E"/>
<rect x="106" y="448.1" width="7.3" height="1.6" rx="0.4" fill="#666666"/>
<rect x="117" y="448.1" width="18" height="1.6" rx="0.4" fill="#3E86D6"/>
<path d="M13.7 456.9H23.4V451.6H147.5" fill="none" stroke="#5A8DCF" stroke-width="0.65"/>
<rect x="27.8" y="451.3" width="1" height="4.3" fill="#4A84CB"/>
<rect x="40.1" y="451.3" width="1" height="6.3" fill="#4A84CB"/>
<rect x="44.5" y="451.3" width="1" height="10.3" fill="#4A84CB"/>
<rect x="52.2" y="451.3" width="1" height="5.3" fill="#4A84CB"/>
<rect x="69.5" y="451.3" width="1" height="10.3" fill="#4A84CB"/>
<rect x="89.1" y="451.3" width="1" height="5.8" fill="#4A84CB"/>
<rect x="146.2" y="451.3" width="1" height="5.8" fill="#4A84CB"/>
<text x="9.5" y="445.5" font-family="'Liberation Serif',serif" font-size="5.4" fill="#000"><tspan font-weight="bold">STMlike2</tspan> (<tspan font-style="italic">Prupe.4G015200.1</tspan>)</text>
<line x1="13.1" y1="485" x2="159.5" y2="485" stroke="#E4E4E4" stroke-width="0.3"/>
<line x1="13.1" y1="488.5" x2="159.5" y2="488.5" stroke="#E4E4E4" stroke-width="0.3"/>
<line x1="13.1" y1="492" x2="159.5" y2="492" stroke="#E4E4E4" stroke-width="0.3"/>
<line x1="13.1" y1="495.5" x2="159.5" y2="495.5" stroke="#E4E4E4" stroke-width="0.3"/>
<line x1="13.1" y1="499" x2="159.5" y2="499" stroke="#E4E4E4" stroke-width="0.3"/>
<line x1="13.1" y1="502.5" x2="159.5" y2="502.5" stroke="#BDBDBD" stroke-width="0.3"/>
<line x1="31.48" y1="501.9" x2="31.48" y2="503.1" stroke="#999" stroke-width="0.3"/>
<line x1="49.85" y1="501.9" x2="49.85" y2="503.1" stroke="#999" stroke-width="0.3"/>
<line x1="68.22" y1="501.9" x2="68.22" y2="503.1" stroke="#999" stroke-width="0.3"/>
<line x1="86.6" y1="501.9" x2="86.6" y2="503.1" stroke="#999" stroke-width="0.3"/>
<line x1="104.97" y1="501.9" x2="104.97" y2="503.1" stroke="#999" stroke-width="0.3"/>
<line x1="123.35" y1="501.9" x2="123.35" y2="503.1" stroke="#999" stroke-width="0.3"/>
<line x1="141.72" y1="501.9" x2="141.72" y2="503.1" stroke="#999" stroke-width="0.3"/>
<line x1="160.1" y1="501.9" x2="160.1" y2="503.1" stroke="#999" stroke-width="0.3"/>
<text x="12.2" y="485.85" font-family="'Liberation Serif',serif" font-size="2.8" fill="#222" text-anchor="end">1.0</text>
<text x="12.2" y="489.35" font-family="'Liberation Serif',serif" font-size="2.8" fill="#222" text-anchor="end">0.9</text>
<text x="12.2" y="492.85" font-family="'Liberation Serif',serif" font-size="2.8" fill="#222" text-anchor="end">0.8</text>
<text x="12.2" y="496.35" font-family="'Liberation Serif',serif" font-size="2.8" fill="#222" text-anchor="end">0.7</text>
<text x="12.2" y="499.85" font-family="'Liberation Serif',serif" font-size="2.8" fill="#222" text-anchor="end">0.6</text>
<text x="12.2" y="503.35" font-family="'Liberation Serif',serif" font-size="2.8" fill="#222" text-anchor="end">0.5</text>
<line x1="13.5" y1="482.3" x2="130.3" y2="482.3" stroke="#C9C9C9" stroke-width="0.5"/>
<rect x="41" y="481.5" width="14.3" height="1.6" rx="0.4" fill="#F28A2E"/>
<rect x="58.6" y="481.5" width="16" height="1.6" rx="0.4" fill="#E8352E"/>
<rect x="89.6" y="481.5" width="7" height="1.6" rx="0.4" fill="#666666"/>
<rect x="105" y="481.5" width="13.4" height="1.6" rx="0.4" fill="#3E86D6"/>
<line x1="13.5" y1="485" x2="130.8" y2="485" stroke="#B0C9E8" stroke-width="1.4"/>
<rect x="20.1" y="484.7" width="1" height="5.3" fill="#4A84CB"/>
<rect x="25.2" y="484.7" width="1" height="5.3" fill="#4A84CB"/>
<rect x="28.5" y="484.7" width="1" height="5.3" fill="#4A84CB"/>
<rect x="29.8" y="484.7" width="1" height="5.3" fill="#4A84CB"/>
<rect x="35.9" y="484.7" width="1.8" height="10.3" fill="#4A84CB"/>
<rect x="40.1" y="484.7" width="1" height="5.3" fill="#4A84CB"/>
<rect x="47.9" y="484.7" width="1.8" height="10.3" fill="#4A84CB"/>
<rect x="53.5" y="484.7" width="1" height="10.3" fill="#4A84CB"/>
<rect x="59.1" y="484.7" width="1" height="5.3" fill="#4A84CB"/>
<rect x="76.6" y="484.7" width="1" height="5.3" fill="#4A84CB"/>
<rect x="87.5" y="484.7" width="1" height="4.3" fill="#4A84CB"/>
<rect x="93.5" y="484.7" width="1" height="5.3" fill="#4A84CB"/>
<rect x="123.1" y="484.7" width="1.8" height="10.3" fill="#4A84CB"/>
<rect x="126.9" y="484.7" width="1" height="5.3" fill="#4A84CB"/>
<rect x="128.7" y="484.7" width="1" height="6.3" fill="#4A84CB"/>
<rect x="130" y="484.7" width="1" height="5.3" fill="#4A84CB"/>
<text x="9.5" y="478.9" font-family="'Liberation Serif',serif" font-size="5.4" fill="#000"><tspan font-weight="bold">KNOPE6</tspan> (<tspan font-style="italic">Prupe.6G312900.1</tspan>)</text>
<line x1="175.3" y1="315.5" x2="339.2" y2="315.5" stroke="#E4E4E4" stroke-width="0.3"/>
<line x1="175.3" y1="319" x2="339.2" y2="319" stroke="#E4E4E4" stroke-width="0.3"/>
<line x1="175.3" y1="322.5" x2="339.2" y2="322.5" stroke="#E4E4E4" stroke-width="0.3"/>
<line x1="175.3" y1="326" x2="339.2" y2="326" stroke="#E4E4E4" stroke-width="0.3"/>
<line x1="175.3" y1="329.5" x2="339.2" y2="329.5" stroke="#E4E4E4" stroke-width="0.3"/>
<line x1="175.3" y1="333" x2="339.2" y2="333" stroke="#BDBDBD" stroke-width="0.3"/>
<line x1="193.5" y1="332.4" x2="193.5" y2="333.6" stroke="#999" stroke-width="0.3"/>
<line x1="211.7" y1="332.4" x2="211.7" y2="333.6" stroke="#999" stroke-width="0.3"/>
<line x1="229.9" y1="332.4" x2="229.9" y2="333.6" stroke="#999" stroke-width="0.3"/>
<line x1="248.1" y1="332.4" x2="248.1" y2="333.6" stroke="#999" stroke-width="0.3"/>
<line x1="266.3" y1="332.4" x2="266.3" y2="333.6" stroke="#999" stroke-width="0.3"/>
<line x1="284.5" y1="332.4" x2="284.5" y2="333.6" stroke="#999" stroke-width="0.3"/>
<line x1="302.7" y1="332.4" x2="302.7" y2="333.6" stroke="#999" stroke-width="0.3"/>
<line x1="320.9" y1="332.4" x2="320.9" y2="333.6" stroke="#999" stroke-width="0.3"/>
<line x1="339.1" y1="332.4" x2="339.1" y2="333.6" stroke="#999" stroke-width="0.3"/>
<text x="174.4" y="316.35" font-family="'Liberation Serif',serif" font-size="2.8" fill="#222" text-anchor="end">1.0</text>
<text x="174.4" y="319.85" font-family="'Liberation Serif',serif" font-size="2.8" fill="#222" text-anchor="end">0.9</text>
<text x="174.4" y="323.35" font-family="'Liberation Serif',serif" font-size="2.8" fill="#222" text-anchor="end">0.8</text>
<text x="174.4" y="326.85" font-family="'Liberation Serif',serif" font-size="2.8" fill="#222" text-anchor="end">0.7</text>
<text x="174.4" y="330.35" font-family="'Liberation Serif',serif" font-size="2.8" fill="#222" text-anchor="end">0.6</text>
<text x="174.4" y="333.85" font-family="'Liberation Serif',serif" font-size="2.8" fill="#222" text-anchor="end">0.5</text>
<line x1="175.7" y1="312.8" x2="338" y2="312.8" stroke="#C9C9C9" stroke-width="0.5"/>
<rect x="226" y="312" width="16" height="1.6" rx="0.4" fill="#F28A2E"/>
<rect x="247.8" y="312" width="19.2" height="1.6" rx="0.4" fill="#E8352E"/>
<rect x="285.8" y="312" width="9.8" height="1.6" rx="0.4" fill="#666666"/>
<rect x="299.2" y="312" width="22.1" height="1.6" rx="0.4" fill="#3E86D6"/>
<line x1="175.7" y1="315.5" x2="338.5" y2="315.5" stroke="#F3AC78" stroke-width="0.7"/>
<path d="M216.4 315.5V320.3H222.6V315.5" fill="none" stroke="#EE9048" stroke-width="0.5"/>
<line x1="216.7" y1="315.5" x2="222.3" y2="315.5" stroke="#fff" stroke-width="0.9"/>
<rect x="183.1" y="315.2" width="1" height="5.1" fill="#EE9048"/>
<rect x="185.9" y="315.2" width="1" height="6.7" fill="#EE9048"/>
<rect x="189.1" y="315.2" width="1" height="4.7" fill="#EE9048"/>
<rect x="191.5" y="315.2" width="1" height="4.7" fill="#EE9048"/>
<rect x="196.5" y="315.2" width="1" height="4.7" fill="#EE9048"/>
<rect x="200.1" y="315.2" width="1" height="7.7" fill="#EE9048"/>
<rect x="213.5" y="315.2" width="1" height="4.7" fill="#EE9048"/>
<rect x="219.9" y="315.2" width="1" height="10.7" fill="#EE9048"/>
<rect x="226.5" y="315.2" width="1" height="3.9" fill="#EE9048"/>
<rect x="228.5" y="315.2" width="1" height="3.9" fill="#EE9048"/>
<rect x="231.5" y="315.2" width="1" height="7.1" fill="#EE9048"/>
<rect x="235.1" y="315.2" width="1" height="3.9" fill="#EE9048"/>
<rect x="238.5" y="315.2" width="1" height="3.9" fill="#EE9048"/>
<rect x="257.8" y="315.2" width="1" height="4.3" fill="#EE9048"/>
<rect x="285.9" y="315.2" width="1" height="10.8" fill="#EE9048"/>
<rect x="311.5" y="315.2" width="1" height="4.3" fill="#EE9048"/>
<rect x="332.5" y="315.2" width="1" height="10.8" fill="#EE9048"/>
<text x="172.2" y="309.4" font-family="'Liberation Serif',serif" font-size="5.4" fill="#000"><tspan font-weight="bold">KNOPE3</tspan> (<tspan font-style="italic">Prupe.1G486200.1</tspan>)</text>
<line x1="175.3" y1="350.5" x2="339.2" y2="350.5" stroke="#E4E4E4" stroke-width="0.3"/>
<line x1="175.3" y1="354" x2="339.2" y2="354" stroke="#E4E4E4" stroke-width="0.3"/>
<line x1="175.3" y1="357.5" x2="339.2" y2="357.5" stroke="#E4E4E4" stroke-width="0.3"/>
<line x1="175.3" y1="361" x2="339.2" y2="361" stroke="#E4E4E4" stroke-width="0.3"/>
<line x1="175.3" y1="364.5" x2="339.2" y2="364.5" stroke="#E4E4E4" stroke-width="0.3"/>
<line x1="175.3" y1="368" x2="339.2" y2="368" stroke="#BDBDBD" stroke-width="0.3"/>
<line x1="193.5" y1="367.4" x2="193.5" y2="368.6" stroke="#999" stroke-width="0.3"/>
<line x1="211.7" y1="367.4" x2="211.7" y2="368.6" stroke="#999" stroke-width="0.3"/>
<line x1="229.9" y1="367.4" x2="229.9" y2="368.6" stroke="#999" stroke-width="0.3"/>
<line x1="248.1" y1="367.4" x2="248.1" y2="368.6" stroke="#999" stroke-width="0.3"/>
<line x1="266.3" y1="367.4" x2="266.3" y2="368.6" stroke="#999" stroke-width="0.3"/>
<line x1="284.5" y1="367.4" x2="284.5" y2="368.6" stroke="#999" stroke-width="0.3"/>
<line x1="302.7" y1="367.4" x2="302.7" y2="368.6" stroke="#999" stroke-width="0.3"/>
<line x1="320.9" y1="367.4" x2="320.9" y2="368.6" stroke="#999" stroke-width="0.3"/>
<line x1="339.1" y1="367.4" x2="339.1" y2="368.6" stroke="#999" stroke-width="0.3"/>
<text x="174.4" y="351.35" font-family="'Liberation Serif',serif" font-size="2.8" fill="#222" text-anchor="end">1.0</text>
<text x="174.4" y="354.85" font-family="'Liberation Serif',serif" font-size="2.8" fill="#222" text-anchor="end">0.9</text>
<text x="174.4" y="358.35" font-family="'Liberation Serif',serif" font-size="2.8" fill="#222" text-anchor="end">0.8</text>
<text x="174.4" y="361.85" font-family="'Liberation Serif',serif" font-size="2.8" fill="#222" text-anchor="end">0.7</text>
<text x="174.4" y="365.35" font-family="'Liberation Serif',serif" font-size="2.8" fill="#222" text-anchor="end">0.6</text>
<text x="174.4" y="368.85" font-family="'Liberation Serif',serif" font-size="2.8" fill="#222" text-anchor="end">0.5</text>
<line x1="175.7" y1="347.8" x2="302.1" y2="347.8" stroke="#C9C9C9" stroke-width="0.5"/>
<rect x="215.9" y="347" width="14.6" height="1.6" rx="0.4" fill="#F28A2E"/>
<rect x="233" y="347" width="15" height="1.6" rx="0.4" fill="#E8352E"/>
<rect x="264" y="347" width="7" height="1.6" rx="0.4" fill="#666666"/>
<rect x="274.3" y="347" width="17.2" height="1.6" rx="0.4" fill="#3E86D6"/>
<line x1="175.7" y1="350.5" x2="302.6" y2="350.5" stroke="#F3AC78" stroke-width="0.7"/>
<rect x="179.5" y="350.2" width="1" height="5.3" fill="#EE9048"/>
<rect x="184.05" y="350.2" width="1.5" height="10.3" fill="#EE9048"/>
<rect x="191" y="350.2" width="1" height="10.3" fill="#EE9048"/>
<rect x="199.2" y="350.2" width="1" height="5.3" fill="#EE9048"/>
<rect x="204.9" y="350.2" width="1" height="5.3" fill="#EE9048"/>
<rect x="228.8" y="350.2" width="1" height="9.3" fill="#EE9048"/>
<rect x="248" y="350.2" width="1" height="5.3" fill="#EE9048"/>
<text x="172.2" y="344.4" font-family="'Liberation Serif',serif" font-size="5.4" fill="#000"><tspan font-weight="bold">KNOPE4</tspan> (<tspan font-style="italic">Prupe.7G254700.1</tspan>)</text>
<line x1="175.3" y1="384.3" x2="339.2" y2="384.3" stroke="#E4E4E4" stroke-width="0.3"/>
<line x1="175.3" y1="387.8" x2="339.2" y2="387.8" stroke="#E4E4E4" stroke-width="0.3"/>
<line x1="175.3" y1="391.3" x2="339.2" y2="391.3" stroke="#E4E4E4" stroke-width="0.3"/>
<line x1="175.3" y1="394.8" x2="339.2" y2="394.8" stroke="#E4E4E4" stroke-width="0.3"/>
<line x1="175.3" y1="398.3" x2="339.2" y2="398.3" stroke="#E4E4E4" stroke-width="0.3"/>
<line x1="175.3" y1="401.8" x2="339.2" y2="401.8" stroke="#BDBDBD" stroke-width="0.3"/>
<line x1="193.5" y1="401.2" x2="193.5" y2="402.4" stroke="#999" stroke-width="0.3"/>
<line x1="211.7" y1="401.2" x2="211.7" y2="402.4" stroke="#999" stroke-width="0.3"/>
<line x1="229.9" y1="401.2" x2="229.9" y2="402.4" stroke="#999" stroke-width="0.3"/>
<line x1="248.1" y1="401.2" x2="248.1" y2="402.4" stroke="#999" stroke-width="0.3"/>
<line x1="266.3" y1="401.2" x2="266.3" y2="402.4" stroke="#999" stroke-width="0.3"/>
<line x1="284.5" y1="401.2" x2="284.5" y2="402.4" stroke="#999" stroke-width="0.3"/>
<line x1="302.7" y1="401.2" x2="302.7" y2="402.4" stroke="#999" stroke-width="0.3"/>
<line x1="320.9" y1="401.2" x2="320.9" y2="402.4" stroke="#999" stroke-width="0.3"/>
<line x1="339.1" y1="401.2" x2="339.1" y2="402.4" stroke="#999" stroke-width="0.3"/>
<text x="174.4" y="385.15" font-family="'Liberation Serif',serif" font-size="2.8" fill="#222" text-anchor="end">1.0</text>
<text x="174.4" y="388.65" font-family="'Liberation Serif',serif" font-size="2.8" fill="#222" text-anchor="end">0.9</text>
<text x="174.4" y="392.15" font-family="'Liberation Serif',serif" font-size="2.8" fill="#222" text-anchor="end">0.8</text>
<text x="174.4" y="395.65" font-family="'Liberation Serif',serif" font-size="2.8" fill="#222" text-anchor="end">0.7</text>
<text x="174.4" y="399.15" font-family="'Liberation Serif',serif" font-size="2.8" fill="#222" text-anchor="end">0.6</text>
<text x="174.4" y="402.65" font-family="'Liberation Serif',serif" font-size="2.8" fill="#222" text-anchor="end">0.5</text>
<line x1="175.7" y1="381.6" x2="278.9" y2="381.6" stroke="#C9C9C9" stroke-width="0.5"/>
<rect x="185.6" y="380.8" width="13.6" height="1.6" rx="0.4" fill="#F28A2E"/>
<rect x="206" y="380.8" width="19" height="1.6" rx="0.4" fill="#E8352E"/>
<rect x="244" y="380.8" width="7" height="1.6" rx="0.4" fill="#666666"/>
<rect x="253" y="380.8" width="22" height="1.6" rx="0.4" fill="#3E86D6"/>
<line x1="175.7" y1="384.3" x2="279.4" y2="384.3" stroke="#F3AC78" stroke-width="0.7"/>
<rect x="177.4" y="384" width="1" height="5.3" fill="#EE9048"/>
<rect x="181.8" y="384" width="1" height="10.3" fill="#EE9048"/>
<rect x="203.5" y="384" width="1" height="5.8" fill="#EE9048"/>
<rect x="223.5" y="384" width="1" height="5.8" fill="#EE9048"/>
<rect x="235.2" y="384" width="1" height="5.8" fill="#EE9048"/>
<text x="172.2" y="378.2" font-family="'Liberation Serif',serif" font-size="5.4" fill="#000"><tspan font-weight="bold">KNOPE7</tspan> (<tspan font-style="italic">Prupe.5G088100.1</tspan>)</text>
<line x1="175.3" y1="451.1" x2="339.2" y2="451.1" stroke="#E4E4E4" stroke-width="0.3"/>
<line x1="175.3" y1="454.6" x2="339.2" y2="454.6" stroke="#E4E4E4" stroke-width="0.3"/>
<line x1="175.3" y1="458.1" x2="339.2" y2="458.1" stroke="#E4E4E4" stroke-width="0.3"/>
<line x1="175.3" y1="461.6" x2="339.2" y2="461.6" stroke="#E4E4E4" stroke-width="0.3"/>
<line x1="175.3" y1="465.1" x2="339.2" y2="465.1" stroke="#E4E4E4" stroke-width="0.3"/>
<line x1="175.3" y1="468.6" x2="339.2" y2="468.6" stroke="#BDBDBD" stroke-width="0.3"/>
<line x1="193.5" y1="468" x2="193.5" y2="469.2" stroke="#999" stroke-width="0.3"/>
<line x1="211.7" y1="468" x2="211.7" y2="469.2" stroke="#999" stroke-width="0.3"/>
<line x1="229.9" y1="468" x2="229.9" y2="469.2" stroke="#999" stroke-width="0.3"/>
<line x1="248.1" y1="468" x2="248.1" y2="469.2" stroke="#999" stroke-width="0.3"/>
<line x1="266.3" y1="468" x2="266.3" y2="469.2" stroke="#999" stroke-width="0.3"/>
<line x1="284.5" y1="468" x2="284.5" y2="469.2" stroke="#999" stroke-width="0.3"/>
<line x1="302.7" y1="468" x2="302.7" y2="469.2" stroke="#999" stroke-width="0.3"/>
<line x1="320.9" y1="468" x2="320.9" y2="469.2" stroke="#999" stroke-width="0.3"/>
<line x1="339.1" y1="468" x2="339.1" y2="469.2" stroke="#999" stroke-width="0.3"/>
<text x="174.4" y="451.95" font-family="'Liberation Serif',serif" font-size="2.8" fill="#222" text-anchor="end">1.0</text>
<text x="174.4" y="455.45" font-family="'Liberation Serif',serif" font-size="2.8" fill="#222" text-anchor="end">0.9</text>
<text x="174.4" y="458.95" font-family="'Liberation Serif',serif" font-size="2.8" fill="#222" text-anchor="end">0.8</text>
<text x="174.4" y="462.45" font-family="'Liberation Serif',serif" font-size="2.8" fill="#222" text-anchor="end">0.7</text>
<text x="174.4" y="465.95" font-family="'Liberation Serif',serif" font-size="2.8" fill="#222" text-anchor="end">0.6</text>
<text x="174.4" y="469.45" font-family="'Liberation Serif',serif" font-size="2.8" fill="#222" text-anchor="end">0.5</text>
<line x1="175.7" y1="448.4" x2="224.9" y2="448.4" stroke="#C9C9C9" stroke-width="0.5"/>
<rect x="184.3" y="447.6" width="7.7" height="1.6" rx="0.4" fill="#F28A2E"/>
<rect x="203.6" y="447.6" width="14.6" height="1.6" rx="0.4" fill="#E8352E"/>
<line x1="175.7" y1="451.1" x2="225.4" y2="451.1" stroke="#9CCFA0" stroke-width="0.7"/>
<path d="M188.9 451.1V457.1H193.3V451.1" fill="none" stroke="#3A9043" stroke-width="0.5"/>
<line x1="189.2" y1="451.1" x2="193" y2="451.1" stroke="#fff" stroke-width="0.9"/>
<rect x="181.2" y="450.8" width="1" height="6.3" fill="#3A9043"/>
<rect x="195.9" y="450.8" width="1" height="5.3" fill="#3A9043"/>
<rect x="199.2" y="450.8" width="1" height="12.3" fill="#3A9043"/>
<rect x="200.5" y="450.8" width="1" height="8.3" fill="#3A9043"/>
<rect x="209.5" y="450.8" width="1" height="6.3" fill="#3A9043"/>
<rect x="219" y="450.8" width="1" height="6.3" fill="#3A9043"/>
<rect x="220.5" y="450.8" width="1" height="6.3" fill="#3A9043"/>
<text x="172.2" y="445" font-family="'Liberation Serif',serif" font-size="5.4" fill="#000"><tspan font-weight="bold">KNOPEM</tspan> (<tspan font-style="italic">Prupe.3G236700.1</tspan>)</text>
<line x1="175.3" y1="485.1" x2="339.2" y2="485.1" stroke="#E4E4E4" stroke-width="0.3"/>
<line x1="175.3" y1="488.6" x2="339.2" y2="488.6" stroke="#E4E4E4" stroke-width="0.3"/>
<line x1="175.3" y1="492.1" x2="339.2" y2="492.1" stroke="#E4E4E4" stroke-width="0.3"/>
<line x1="175.3" y1="495.6" x2="339.2" y2="495.6" stroke="#E4E4E4" stroke-width="0.3"/>
<line x1="175.3" y1="499.1" x2="339.2" y2="499.1" stroke="#E4E4E4" stroke-width="0.3"/>
<line x1="175.3" y1="502.6" x2="339.2" y2="502.6" stroke="#BDBDBD" stroke-width="0.3"/>
<line x1="193.5" y1="502" x2="193.5" y2="503.2" stroke="#999" stroke-width="0.3"/>
<line x1="211.7" y1="502" x2="211.7" y2="503.2" stroke="#999" stroke-width="0.3"/>
<line x1="229.9" y1="502" x2="229.9" y2="503.2" stroke="#999" stroke-width="0.3"/>
<line x1="248.1" y1="502" x2="248.1" y2="503.2" stroke="#999" stroke-width="0.3"/>
<line x1="266.3" y1="502" x2="266.3" y2="503.2" stroke="#999" stroke-width="0.3"/>
<line x1="284.5" y1="502" x2="284.5" y2="503.2" stroke="#999" stroke-width="0.3"/>
<line x1="302.7" y1="502" x2="302.7" y2="503.2" stroke="#999" stroke-width="0.3"/>
<line x1="320.9" y1="502" x2="320.9" y2="503.2" stroke="#999" stroke-width="0.3"/>
<line x1="339.1" y1="502" x2="339.1" y2="503.2" stroke="#999" stroke-width="0.3"/>
<text x="174.4" y="485.95" font-family="'Liberation Serif',serif" font-size="2.8" fill="#222" text-anchor="end">1.0</text>
<text x="174.4" y="489.45" font-family="'Liberation Serif',serif" font-size="2.8" fill="#222" text-anchor="end">0.9</text>
<text x="174.4" y="492.95" font-family="'Liberation Serif',serif" font-size="2.8" fill="#222" text-anchor="end">0.8</text>
<text x="174.4" y="496.45" font-family="'Liberation Serif',serif" font-size="2.8" fill="#222" text-anchor="end">0.7</text>
<text x="174.4" y="499.95" font-family="'Liberation Serif',serif" font-size="2.8" fill="#222" text-anchor="end">0.6</text>
<text x="174.4" y="503.45" font-family="'Liberation Serif',serif" font-size="2.8" fill="#222" text-anchor="end">0.5</text>
<line x1="175.7" y1="482.4" x2="224.1" y2="482.4" stroke="#C9C9C9" stroke-width="0.5"/>
<rect x="188.9" y="481.6" width="8.7" height="1.6" rx="0.4" fill="#F28A2E"/>
<rect x="207.4" y="481.6" width="14.6" height="1.6" rx="0.4" fill="#E8352E"/>
<line x1="175.7" y1="485.1" x2="224.6" y2="485.1" stroke="#9CCFA0" stroke-width="0.7"/>
<rect x="175.25" y="484.8" width="1.9" height="9.8" fill="#3A9043"/>
<rect x="179.4" y="484.8" width="1" height="5.3" fill="#3A9043"/>
<rect x="180.55" y="484.8" width="1.3" height="8.8" fill="#3A9043"/>
<rect x="186.1" y="484.8" width="1" height="5.3" fill="#3A9043"/>
<rect x="189.7" y="484.8" width="1" height="5.3" fill="#3A9043"/>
<rect x="192.95" y="484.8" width="1.7" height="8.3" fill="#3A9043"/>
<rect x="194.75" y="484.8" width="1.5" height="7.8" fill="#3A9043"/>
<rect x="196.65" y="484.8" width="1.5" height="7.3" fill="#3A9043"/>
<rect x="202.55" y="484.8" width="1.5" height="9.8" fill="#3A9043"/>
<rect x="204.3" y="484.8" width="1" height="6.3" fill="#3A9043"/>
<rect x="213.8" y="484.8" width="1" height="5.3" fill="#3A9043"/>
<rect x="216.25" y="484.8" width="1.5" height="10.3" fill="#3A9043"/>
<rect x="217.95" y="484.8" width="1.5" height="9.8" fill="#3A9043"/>
<rect x="222.05" y="484.8" width="1.5" height="7.3" fill="#3A9043"/>
<rect x="223.6" y="484.8" width="1" height="5.3" fill="#3A9043"/>
<text x="172.2" y="479" font-family="'Liberation Serif',serif" font-size="5.4" fill="#000"><tspan font-weight="bold">KNOPEM2</tspan> (<tspan font-style="italic">Prupe.1G335000.1</tspan>)</text>
</g>
<text x="10.5" y="288.3" font-family="'Liberation Serif',serif" font-size="7.3" font-weight="bold" fill="#111">(B)</text>
<text x="11" y="22.8" font-family="'Liberation Serif',serif" font-size="7.3" font-weight="bold" fill="#111">(A)</text>
<text x="9.5" y="300.8" font-family="'Liberation Serif',serif" font-size="9.2" font-weight="bold" fill="#2565B5">Class I</text>
<text x="172.2" y="300.8" font-family="'Liberation Serif',serif" font-size="9.1" font-weight="bold" fill="#E2752B">Class II</text>
<text x="172.2" y="435.6" font-family="'Liberation Serif',serif" font-size="9.1" font-weight="bold" fill="#2E7D3A">Class M</text>
<text x="31.48" y="508.7" font-family="'Liberation Serif',serif" font-size="4.7" fill="#4a4a4a" text-anchor="middle">50</text>
<text x="49.85" y="508.7" font-family="'Liberation Serif',serif" font-size="4.7" fill="#4a4a4a" text-anchor="middle">100</text>
<text x="68.22" y="508.7" font-family="'Liberation Serif',serif" font-size="4.7" fill="#4a4a4a" text-anchor="middle">150</text>
<text x="86.6" y="508.7" font-family="'Liberation Serif',serif" font-size="4.7" fill="#4a4a4a" text-anchor="middle">200</text>
<text x="104.97" y="508.7" font-family="'Liberation Serif',serif" font-size="4.7" fill="#4a4a4a" text-anchor="middle">250</text>
<text x="123.35" y="508.7" font-family="'Liberation Serif',serif" font-size="4.7" fill="#4a4a4a" text-anchor="middle">300</text>
<text x="141.72" y="508.7" font-family="'Liberation Serif',serif" font-size="4.7" fill="#4a4a4a" text-anchor="middle">350</text>
<text x="160.1" y="508.7" font-family="'Liberation Serif',serif" font-size="4.7" fill="#4a4a4a" text-anchor="middle">400</text>
<text x="193.5" y="508.7" font-family="'Liberation Serif',serif" font-size="4.7" fill="#4a4a4a" text-anchor="middle">50</text>
<text x="211.7" y="508.7" font-family="'Liberation Serif',serif" font-size="4.7" fill="#4a4a4a" text-anchor="middle">100</text>
<text x="229.9" y="508.7" font-family="'Liberation Serif',serif" font-size="4.7" fill="#4a4a4a" text-anchor="middle">150</text>
<text x="248.1" y="508.7" font-family="'Liberation Serif',serif" font-size="4.7" fill="#4a4a4a" text-anchor="middle">200</text>
<text x="266.3" y="508.7" font-family="'Liberation Serif',serif" font-size="4.7" fill="#4a4a4a" text-anchor="middle">250</text>
<text x="284.5" y="508.7" font-family="'Liberation Serif',serif" font-size="4.7" fill="#4a4a4a" text-anchor="middle">300</text>
<text x="302.7" y="508.7" font-family="'Liberation Serif',serif" font-size="4.7" fill="#4a4a4a" text-anchor="middle">350</text>
<text x="320.9" y="508.7" font-family="'Liberation Serif',serif" font-size="4.7" fill="#4a4a4a" text-anchor="middle">400</text>
<text x="339.1" y="508.7" font-family="'Liberation Serif',serif" font-size="4.7" fill="#4a4a4a" text-anchor="middle">450</text>
<text x="74.3" y="514" font-family="'Liberation Serif',serif" font-size="6.2" fill="#111" text-anchor="middle">Amino acid position</text>
<text x="259" y="519.3" font-family="'Liberation Serif',serif" font-size="6.2" fill="#111" text-anchor="middle">Amino acid position</text>
<rect x="291.7" y="257.1" width="4.3" height="2.6" fill="#2766C4"/>
<text x="298.2" y="260.4" font-family="'Liberation Serif',serif" font-size="6.2" fill="#000" stroke="#000" stroke-width="0.08">Class I</text>
<rect x="291.7" y="263.5" width="4.3" height="2.6" fill="#E57C23"/>
<text x="298.2" y="266.8" font-family="'Liberation Serif',serif" font-size="6.2" fill="#000" stroke="#000" stroke-width="0.08">Class II</text>
<rect x="291.7" y="269.9" width="4.3" height="2.6" fill="#1F7A3A"/>
<text x="298.2" y="273.2" font-family="'Liberation Serif',serif" font-size="6.2" fill="#000" stroke="#000" stroke-width="0.08">Class M</text>
<rect x="292.6" y="525.15" width="3.5" height="1.9" fill="#F28A2E"/>
<text x="297.9" y="527.85" font-family="'Liberation Serif',serif" font-size="5.25" fill="#000" stroke="#000" stroke-width="0.08">KNOX1 (PF03790)</text>
<rect x="292.6" y="531.2" width="3.5" height="1.9" fill="#E8352E"/>
<text x="297.9" y="533.9" font-family="'Liberation Serif',serif" font-size="5.25" fill="#000" stroke="#000" stroke-width="0.08">KNOX2 (PF03791)</text>
<rect x="292.6" y="537.25" width="3.5" height="1.9" fill="#666666"/>
<text x="297.9" y="539.95" font-family="'Liberation Serif',serif" font-size="5.25" fill="#000" stroke="#000" stroke-width="0.08">ELK (PF03789)</text>
<rect x="292.6" y="543.3" width="3.5" height="1.9" fill="#3E86D6"/>
<text x="297.9" y="546" font-family="'Liberation Serif',serif" font-size="5.25" fill="#000" stroke="#000" stroke-width="0.08">HD (PF05920)</text>
</svg>
</body></html>
